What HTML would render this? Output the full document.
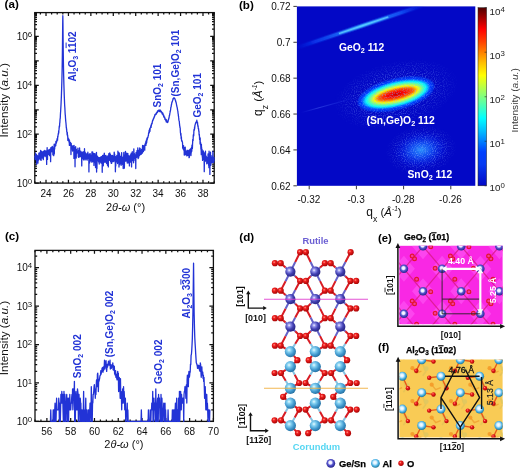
<!DOCTYPE html>
<html><head><meta charset="utf-8"><title>Figure</title>
<style>
html,body{margin:0;padding:0;background:#fff;}
body{width:520px;height:469px;overflow:hidden;}
svg{display:block;font-family:"Liberation Sans", sans-serif;filter:blur(0.35px);}
</style></head><body>
<svg width="520" height="469" viewBox="0 0 520 469">
<rect width="520" height="469" fill="#fff"/>
<rect x="34.8" y="12.6" width="179.4" height="170.5" fill="#fff" stroke="#111" stroke-width="1.3"/>
<path d="M34.8 183.1v-1.8M34.8 12.6v1.8M40.41 183.1v-1.8M40.41 12.6v1.8M46.01 183.1v-3.4M46.01 12.6v3.4M51.62 183.1v-1.8M51.62 12.6v1.8M57.22 183.1v-1.8M57.22 12.6v1.8M62.83 183.1v-1.8M62.83 12.6v1.8M68.44 183.1v-3.4M68.44 12.6v3.4M74.04 183.1v-1.8M74.04 12.6v1.8M79.65 183.1v-1.8M79.65 12.6v1.8M85.26 183.1v-1.8M85.26 12.6v1.8M90.86 183.1v-3.4M90.86 12.6v3.4M96.47 183.1v-1.8M96.47 12.6v1.8M102.07 183.1v-1.8M102.07 12.6v1.8M107.68 183.1v-1.8M107.68 12.6v1.8M113.29 183.1v-3.4M113.29 12.6v3.4M118.89 183.1v-1.8M118.89 12.6v1.8M124.5 183.1v-1.8M124.5 12.6v1.8M130.11 183.1v-1.8M130.11 12.6v1.8M135.71 183.1v-3.4M135.71 12.6v3.4M141.32 183.1v-1.8M141.32 12.6v1.8M146.92 183.1v-1.8M146.92 12.6v1.8M152.53 183.1v-1.8M152.53 12.6v1.8M158.14 183.1v-3.4M158.14 12.6v3.4M163.74 183.1v-1.8M163.74 12.6v1.8M169.35 183.1v-1.8M169.35 12.6v1.8M174.96 183.1v-1.8M174.96 12.6v1.8M180.56 183.1v-3.4M180.56 12.6v3.4M186.17 183.1v-1.8M186.17 12.6v1.8M191.77 183.1v-1.8M191.77 12.6v1.8M197.38 183.1v-1.8M197.38 12.6v1.8M202.99 183.1v-3.4M202.99 12.6v3.4M208.59 183.1v-1.8M208.59 12.6v1.8M214.2 183.1v-1.8M214.2 12.6v1.8M34.8 183.1h4M214.2 183.1h-4M34.8 175.74h2.2M214.2 175.74h-2.2M34.8 171.43h2.2M214.2 171.43h-2.2M34.8 168.38h2.2M214.2 168.38h-2.2M34.8 166.01h2.2M214.2 166.01h-2.2M34.8 164.07h2.2M214.2 164.07h-2.2M34.8 162.44h2.2M214.2 162.44h-2.2M34.8 161.02h2.2M214.2 161.02h-2.2M34.8 159.77h2.2M214.2 159.77h-2.2M34.8 158.65h4M214.2 158.65h-4M34.8 151.29h2.2M214.2 151.29h-2.2M34.8 146.98h2.2M214.2 146.98h-2.2M34.8 143.93h2.2M214.2 143.93h-2.2M34.8 141.56h2.2M214.2 141.56h-2.2M34.8 139.62h2.2M214.2 139.62h-2.2M34.8 137.99h2.2M214.2 137.99h-2.2M34.8 136.57h2.2M214.2 136.57h-2.2M34.8 135.32h2.2M214.2 135.32h-2.2M34.8 134.2h4M214.2 134.2h-4M34.8 126.84h2.2M214.2 126.84h-2.2M34.8 122.53h2.2M214.2 122.53h-2.2M34.8 119.48h2.2M214.2 119.48h-2.2M34.8 117.11h2.2M214.2 117.11h-2.2M34.8 115.17h2.2M214.2 115.17h-2.2M34.8 113.54h2.2M214.2 113.54h-2.2M34.8 112.12h2.2M214.2 112.12h-2.2M34.8 110.87h2.2M214.2 110.87h-2.2M34.8 109.75h4M214.2 109.75h-4M34.8 102.39h2.2M214.2 102.39h-2.2M34.8 98.08h2.2M214.2 98.08h-2.2M34.8 95.03h2.2M214.2 95.03h-2.2M34.8 92.66h2.2M214.2 92.66h-2.2M34.8 90.72h2.2M214.2 90.72h-2.2M34.8 89.09h2.2M214.2 89.09h-2.2M34.8 87.67h2.2M214.2 87.67h-2.2M34.8 86.42h2.2M214.2 86.42h-2.2M34.8 85.3h4M214.2 85.3h-4M34.8 77.94h2.2M214.2 77.94h-2.2M34.8 73.63h2.2M214.2 73.63h-2.2M34.8 70.58h2.2M214.2 70.58h-2.2M34.8 68.21h2.2M214.2 68.21h-2.2M34.8 66.27h2.2M214.2 66.27h-2.2M34.8 64.64h2.2M214.2 64.64h-2.2M34.8 63.22h2.2M214.2 63.22h-2.2M34.8 61.97h2.2M214.2 61.97h-2.2M34.8 60.85h4M214.2 60.85h-4M34.8 53.49h2.2M214.2 53.49h-2.2M34.8 49.18h2.2M214.2 49.18h-2.2M34.8 46.13h2.2M214.2 46.13h-2.2M34.8 43.76h2.2M214.2 43.76h-2.2M34.8 41.82h2.2M214.2 41.82h-2.2M34.8 40.19h2.2M214.2 40.19h-2.2M34.8 38.77h2.2M214.2 38.77h-2.2M34.8 37.52h2.2M214.2 37.52h-2.2M34.8 36.4h4M214.2 36.4h-4M34.8 29.04h2.2M214.2 29.04h-2.2M34.8 24.73h2.2M214.2 24.73h-2.2M34.8 21.68h2.2M214.2 21.68h-2.2M34.8 19.31h2.2M214.2 19.31h-2.2M34.8 17.37h2.2M214.2 17.37h-2.2M34.8 15.74h2.2M214.2 15.74h-2.2M34.8 14.32h2.2M214.2 14.32h-2.2M34.8 13.07h2.2M214.2 13.07h-2.2" stroke="#111" stroke-width="1.25" fill="none"/>
<path d="M34.8 156.97L34.92 156.12L35.04 157.69L35.16 159.37L35.28 158.14L35.4 159.6L35.52 156.67L35.64 153.11L35.76 158.14L35.88 158.47L36 155.39L36.12 155.73L36.24 156.39L36.36 159.21L36.48 156.71L36.6 154.7L36.72 164.31L36.84 157.8L36.96 161.71L37.08 160.01L37.2 161.49L37.31 157.08L37.43 159.86L37.55 155.65L37.67 155.93L37.79 156.83L37.91 163.1L38.03 160.17L38.15 156.37L38.27 155.9L38.39 160.29L38.51 157.43L38.63 158.74L38.75 158.25L38.87 153.22L38.99 158.18L39.11 156.08L39.23 153.6L39.35 157.48L39.47 156.19L39.59 155.57L39.71 155.66L39.83 159.03L39.95 155.55L40.07 152.14L40.19 159.76L40.31 153.39L40.43 155.3L40.55 157.26L40.67 150.3L40.79 153.51L40.91 158.59L41.03 155.23L41.15 160.26L41.27 155.84L41.39 153.54L41.51 155.44L41.63 153.51L41.75 151.48L41.87 156.89L41.99 155.88L42.11 156.25L42.23 154.7L42.34 158.02L42.46 156.42L42.58 155.39L42.7 152.57L42.82 151.9L42.94 158.11L43.06 156.72L43.18 153.04L43.3 159.64L43.42 155.74L43.54 154.77L43.66 151.33L43.78 152.71L43.9 155.2L44.02 155.25L44.14 154.9L44.26 150.46L44.38 155.24L44.5 154.88L44.62 153.21L44.74 154.32L44.86 154.45L44.98 156.64L45.1 153.89L45.22 154.88L45.34 150.92L45.46 152.11L45.58 153.69L45.7 151.96L45.82 154.33L45.94 150.94L46.06 153.41L46.18 151.94L46.3 156.34L46.42 152.39L46.54 157.14L46.66 164.45L46.78 153.74L46.9 155.07L47.02 152.5L47.14 147.58L47.26 154.69L47.37 154.13L47.49 159.39L47.61 151.41L47.73 152.88L47.85 152.87L47.97 150.72L48.09 151.07L48.21 154.53L48.33 152.28L48.45 151.95L48.57 154.32L48.69 151.29L48.81 153.71L48.93 149.55L49.05 151.2L49.17 151.35L49.29 152.77L49.41 151.64L49.53 155.66L49.65 153.67L49.77 150.33L49.89 155.63L50.01 149.11L50.13 154.59L50.25 149.13L50.37 152.46L50.49 148.91L50.61 161.69L50.73 153.59L50.85 147.65L50.97 148.76L51.09 150.19L51.21 150.52L51.33 150.17L51.45 151.73L51.57 147.39L51.69 150.61L51.81 149.5L51.93 150.88L52.05 150.42L52.17 151.58L52.28 146.44L52.4 149.1L52.52 146.78L52.64 148.52L52.76 149.75L52.88 154.73L53 149.21L53.12 147.98L53.24 148.56L53.36 148.27L53.48 150.13L53.6 148.9L53.72 155.65L53.84 148.32L53.96 148.84L54.08 146.15L54.2 144.06L54.32 153.95L54.44 146.59L54.56 147.14L54.68 148.9L54.8 144.38L54.92 145.48L55.04 145.11L55.16 146.27L55.28 144.03L55.4 145.44L55.52 144.55L55.64 145.85L55.76 145.75L55.88 141.44L56 144.06L56.12 142.53L56.24 142.73L56.36 143.03L56.48 142.79L56.6 140.78L56.72 141.78L56.84 141.19L56.96 140.56L57.08 138.58L57.2 138.85L57.31 138.81L57.43 139.58L57.55 140.11L57.67 136.67L57.79 136.14L57.91 136.91L58.03 135.52L58.15 134.64L58.27 133.95L58.39 133.18L58.51 133.89L58.63 131.15L58.75 133.03L58.87 130.18L58.99 129.63L59.11 128.37L59.23 126.58L59.35 125.89L59.47 126.79L59.59 125.95L59.71 122.96L59.83 122.84L59.95 120.81L60.07 118.86L60.19 118.66L60.31 117.19L60.43 114.29L60.55 112.55L60.67 110.7L60.79 108.51L60.91 106.58L61.03 104.37L61.15 101.42L61.27 98.86L61.39 96L61.51 92.35L61.63 88.92L61.75 84.97L61.87 80.81L61.99 75.9L62.11 70.37L62.22 63.93L62.34 56.3L62.46 47.19L62.58 36.05L62.7 23.52L62.82 15.76L62.83 15.75L62.94 22.05L63.06 34.53L63.18 45.9L63.3 55.32L63.42 63.03L63.54 69.5L63.66 75.19L63.78 80.11L63.9 84.54L64.02 88.27L64.14 92.02L64.26 95.72L64.38 98.43L64.5 101.55L64.62 104.56L64.74 106.18L64.86 107.78L64.98 110.33L65.1 112.82L65.22 114.61L65.34 115.38L65.46 117.51L65.58 119.12L65.7 120.66L65.82 122L65.94 122.81L66.06 124.21L66.18 125.63L66.3 127.73L66.42 127.57L66.54 129.58L66.66 128.99L66.78 132.04L66.9 131.86L67.02 132.56L67.14 134.68L67.25 132.25L67.37 133.18L67.49 135.95L67.61 135.18L67.73 136.22L67.85 140.39L67.97 137.47L68.09 138.37L68.21 138.68L68.33 140.67L68.45 140.07L68.57 140.37L68.69 138.89L68.81 140.46L68.93 141.31L69.05 139.43L69.17 142.82L69.29 142.91L69.41 145.39L69.53 140.53L69.65 141.73L69.77 142.07L69.89 142.71L70.01 143.86L70.13 143.93L70.25 144.94L70.37 145.09L70.49 144.89L70.61 142.65L70.73 144.46L70.85 145.72L70.97 154.54L71.09 147.12L71.21 143.37L71.33 145.48L71.45 146.43L71.57 147.35L71.69 148.91L71.81 147.18L71.93 145.61L72.05 148.11L72.17 147.96L72.28 148.1L72.4 147.62L72.52 151L72.64 148.56L72.76 149.89L72.88 146.67L73 150.01L73.12 147.52L73.24 145.78L73.36 149.52L73.48 150.22L73.6 148.76L73.72 149.26L73.84 151.38L73.96 158.43L74.08 145.5L74.2 150.24L74.32 150.24L74.44 152.08L74.56 149.37L74.68 152.73L74.8 152.55L74.92 147.65L75.04 166.87L75.16 148.25L75.28 147.39L75.4 150.17L75.52 149.63L75.64 146.71L75.76 151.43L75.88 152.38L76 154.13L76.12 151.18L76.24 158.02L76.36 149.33L76.48 153.6L76.6 153.5L76.72 152.81L76.84 151.12L76.96 152.31L77.08 151.44L77.19 151.33L77.31 152.75L77.43 152.25L77.55 151.76L77.67 152.49L77.79 151.22L77.91 148.15L78.03 151.15L78.15 152.46L78.27 156.56L78.39 151.82L78.51 157.33L78.63 156.15L78.75 150.92L78.87 151.33L78.99 153.41L79.11 157.16L79.23 154.06L79.35 154.86L79.47 151.79L79.59 147.98L79.71 152.91L79.83 155.35L79.95 156.36L80.07 153.74L80.19 154.09L80.31 156.51L80.43 153.49L80.55 156.63L80.67 151.17L80.79 151.34L80.91 151.33L81.03 155.21L81.15 152.83L81.27 154.47L81.39 155.16L81.51 155.09L81.63 157.53L81.75 165.95L81.87 152.41L81.99 154.92L82.11 153.95L82.22 152.03L82.34 158.94L82.46 156.61L82.58 154.24L82.7 153.73L82.82 155.72L82.94 152.2L83.06 154.32L83.18 157.99L83.3 157.32L83.42 152.92L83.54 153.84L83.66 159.94L83.78 151.64L83.9 153.61L84.02 151.72L84.14 156.22L84.26 156.03L84.38 158.23L84.5 148.76L84.62 155.84L84.74 151.29L84.86 157.15L84.98 155.07L85.1 159.91L85.22 156.57L85.34 153.02L85.46 158.93L85.58 152.85L85.7 154.82L85.82 158.5L85.94 157.1L86.06 157.03L86.18 155.97L86.3 157.3L86.42 158.11L86.54 156.75L86.66 158.71L86.78 159.45L86.9 156.16L87.02 153.7L87.13 160.2L87.25 156.12L87.37 157.9L87.49 158.82L87.61 153.92L87.73 157.64L87.85 152.23L87.97 158.41L88.09 155.28L88.21 156.97L88.33 158.43L88.45 154.82L88.57 156.86L88.69 154.82L88.81 156.62L88.93 171.89L89.05 156.82L89.17 156.43L89.29 153.97L89.41 159.11L89.53 163.07L89.65 161.4L89.77 154.9L89.89 159.7L90.01 161.72L90.13 156.93L90.25 153.74L90.37 161.03L90.49 159.85L90.61 158.92L90.73 160.01L90.85 155.85L90.97 159.17L91.09 158.95L91.21 155.35L91.33 159.1L91.45 155.81L91.57 159.74L91.69 160.44L91.81 162.21L91.93 151.89L92.05 158.01L92.16 156.45L92.28 157.25L92.4 156.88L92.52 157.06L92.64 151.85L92.76 160.16L92.88 161.64L93 160.12L93.12 161.06L93.24 155.2L93.36 155.01L93.48 160.06L93.6 161.3L93.72 158.39L93.84 153.46L93.96 165.41L94.08 155.94L94.2 160.51L94.32 154.51L94.44 160.55L94.56 162.31L94.68 161.81L94.8 160.32L94.92 153.6L95.04 155.23L95.16 158.73L95.28 160.09L95.4 163.03L95.52 167.48L95.64 157.73L95.76 157.9L95.88 157.94L96 160.91L96.12 157.9L96.24 157.83L96.36 154.03L96.48 152.38L96.6 172.07L96.72 159.98L96.84 157.98L96.96 168.46L97.08 159.96L97.19 158L97.31 160.86L97.43 156.11L97.55 158.17L97.67 157.16L97.79 158.43L97.91 160.02L98.03 160.67L98.15 158.62L98.27 159.54L98.39 157.28L98.51 157.99L98.63 161.94L98.75 157.8L98.87 161.91L98.99 159.81L99.11 158.89L99.23 164.08L99.35 157.79L99.47 157.63L99.59 158.54L99.71 159.33L99.83 159.19L99.95 160.96L100.07 158.91L100.19 159.75L100.31 157.87L100.43 161.67L100.55 157.47L100.67 157.75L100.79 162.76L100.91 159.48L101.03 156.59L101.15 163.09L101.27 156.87L101.39 157.52L101.51 157.41L101.63 157.13L101.75 160.18L101.87 159.03L101.99 156.41L102.1 157.02L102.22 172.26L102.34 162.76L102.46 156.73L102.58 160.75L102.7 155.36L102.82 157.65L102.94 162.94L103.06 155.58L103.18 158.8L103.3 165.85L103.42 157.27L103.54 162.8L103.66 162.23L103.78 160.29L103.9 154.65L104.02 159.52L104.14 157.63L104.26 153.27L104.38 153.73L104.5 158.76L104.62 159.18L104.74 162.2L104.86 160.53L104.98 157.22L105.1 157.32L105.22 158.17L105.34 155.55L105.46 160.8L105.58 162.02L105.7 156.35L105.82 156.79L105.94 155.35L106.06 157.36L106.18 159.47L106.3 157.48L106.42 161.54L106.54 163.45L106.66 156.84L106.78 158.74L106.9 157.67L107.02 163.65L107.13 159.68L107.25 160.39L107.37 161.18L107.49 165.34L107.61 159.62L107.73 155.95L107.85 157.49L107.97 160.43L108.09 158.68L108.21 156.38L108.33 166.89L108.45 159.02L108.57 157.03L108.69 156.62L108.81 153.58L108.93 155.28L109.05 157.74L109.17 157.78L109.29 156.33L109.41 160.3L109.53 158.81L109.65 155.98L109.77 152.84L109.89 159.18L110.01 158.85L110.13 158.11L110.25 154.69L110.37 158.81L110.49 154.32L110.61 161.62L110.73 159.28L110.85 159.32L110.97 156.37L111.09 155.6L111.21 163.26L111.33 161.48L111.45 157.73L111.57 160.72L111.69 163.31L111.81 155.63L111.93 157.27L112.04 157.27L112.16 160.18L112.28 155.67L112.4 159.48L112.52 155.47L112.64 161.5L112.76 161.32L112.88 158.15L113 160.87L113.12 156.74L113.24 157.98L113.36 161.54L113.48 158.55L113.6 159.82L113.72 156.02L113.84 160.67L113.96 160.09L114.08 155.13L114.2 152.05L114.32 152.77L114.44 158.58L114.56 158.11L114.68 154.16L114.8 159.14L114.92 161.69L115.04 158.41L115.16 157.41L115.28 161.25L115.4 171.81L115.52 163.07L115.64 156.76L115.76 166.08L115.88 159.18L116 158.11L116.12 156.89L116.24 159.75L116.36 157.25L116.48 161.41L116.6 159.82L116.72 161.8L116.84 155.34L116.96 158.81L117.07 160.94L117.19 159.77L117.31 159.38L117.43 156.61L117.55 163.48L117.67 161.81L117.79 159.83L117.91 151.12L118.03 155.83L118.15 159.01L118.27 156.55L118.39 152.52L118.51 159.36L118.63 161.39L118.75 155.03L118.87 157.17L118.99 167.09L119.11 160.15L119.23 152.88L119.35 153.52L119.47 156.92L119.59 156.56L119.71 164.63L119.83 156.69L119.95 159.15L120.07 157.28L120.19 156.53L120.31 159.56L120.43 163.57L120.55 157.44L120.67 160.72L120.79 159.49L120.91 160.29L121.03 159.5L121.15 165.33L121.27 154.86L121.39 157.71L121.51 155.15L121.63 152.57L121.75 158.35L121.87 163.74L121.99 161.04L122.1 161.95L122.22 159.85L122.34 158.12L122.46 164.24L122.58 157.32L122.7 162.76L122.82 157.42L122.94 158.6L123.06 159.19L123.18 168.61L123.3 159.82L123.42 160.02L123.54 163.13L123.66 158.27L123.78 152.77L123.9 152.36L124.02 154.27L124.14 156.06L124.26 160.07L124.38 168.14L124.5 158.22L124.62 158.24L124.74 158.87L124.86 157.73L124.98 159.24L125.1 158.2L125.22 161.08L125.34 159L125.46 151.3L125.58 158.08L125.7 158.54L125.82 156.29L125.94 155.77L126.06 160.99L126.18 158.36L126.3 155.1L126.42 156.94L126.54 157.34L126.66 153.21L126.78 159.58L126.9 157.38L127.01 159.07L127.13 153.31L127.25 163.1L127.37 161.42L127.49 158.99L127.61 155.57L127.73 155.71L127.85 153.45L127.97 161.82L128.09 155.22L128.21 158.14L128.33 159.16L128.45 155.73L128.57 159.81L128.69 163.02L128.81 158.2L128.93 161.32L129.05 158.91L129.17 156.03L129.29 156.17L129.41 165.94L129.53 157.53L129.65 161.2L129.77 159L129.89 159.42L130.01 160.2L130.13 155.6L130.25 158.55L130.37 162.18L130.49 154.78L130.61 156.97L130.73 155.65L130.85 156.3L130.97 154.83L131.09 156.41L131.21 153.11L131.33 155.29L131.45 155.34L131.57 166.95L131.69 160.27L131.81 156.73L131.93 156.95L132.04 155.65L132.16 159.82L132.28 151.75L132.4 155.81L132.52 159.29L132.64 160.57L132.76 156.72L132.88 159.88L133 157.8L133.12 155.6L133.24 157.5L133.36 154.3L133.48 157.63L133.6 162.81L133.72 153.06L133.84 148.84L133.96 158.18L134.08 156.71L134.2 157.65L134.32 153.37L134.44 158.35L134.56 156.58L134.68 155.35L134.8 157.76L134.92 157.65L135.04 156.36L135.16 160.48L135.28 158.75L135.4 156.05L135.52 154.57L135.64 155.37L135.76 168.6L135.88 155.98L136 152.73L136.12 153.3L136.24 154.85L136.36 156.84L136.48 152.97L136.6 155.95L136.72 157.37L136.84 156.4L136.96 150.74L137.07 153.74L137.19 151.37L137.31 155.37L137.43 151.82L137.55 155.55L137.67 154.4L137.79 147.87L137.91 152.03L138.03 155.07L138.15 158.61L138.27 152.94L138.39 150.74L138.51 154.79L138.63 157.73L138.75 154.15L138.87 153.38L138.99 153.09L139.11 150.15L139.23 152.47L139.35 151.23L139.47 155.68L139.59 150.97L139.71 148.02L139.83 151.05L139.95 152.19L140.07 152.34L140.19 148.49L140.31 154.67L140.43 152.71L140.55 151.31L140.67 150.58L140.79 153.17L140.91 151.39L141.03 152.61L141.15 151.61L141.27 152.07L141.39 154.2L141.51 151.6L141.63 149.51L141.75 153.43L141.87 151.72L141.98 149.62L142.1 153.23L142.22 150.4L142.34 152.9L142.46 148.1L142.58 145.49L142.7 145.96L142.82 150.47L142.94 148.32L143.06 149.42L143.18 149.27L143.3 146.18L143.42 151.72L143.54 146.8L143.66 148.77L143.78 145.72L143.9 147.87L144.02 149.27L144.14 147.23L144.26 146.13L144.38 147.18L144.5 146.09L144.62 147.65L144.74 150.22L144.86 144.56L144.98 144.63L145.1 145.29L145.22 145.12L145.34 143.18L145.46 145.34L145.58 145.4L145.7 144.22L145.82 141.7L145.94 145.38L146.06 141.04L146.18 143.46L146.3 143.76L146.42 139.91L146.54 141.51L146.66 142.82L146.78 141.1L146.9 138.93L147.01 138.2L147.13 139.96L147.25 138.47L147.37 137.67L147.49 138.98L147.61 137.32L147.73 137.38L147.85 137.56L147.97 137.07L148.09 136L148.21 135.62L148.33 135.85L148.45 135.27L148.57 133.19L148.69 133.73L148.81 132.62L148.93 131.89L149.05 132.09L149.17 130.04L149.29 132.62L149.41 130.65L149.53 131.28L149.65 128.88L149.77 128.64L149.89 131.45L150.01 130.16L150.13 128.36L150.25 127.85L150.37 127.5L150.49 127.76L150.61 126.94L150.73 126.4L150.85 126.57L150.97 125.35L151.09 127.41L151.21 124.89L151.33 125.72L151.45 123.92L151.57 124.39L151.69 124.47L151.81 123.24L151.92 123.74L152.04 123.38L152.16 123.44L152.28 122.1L152.4 121.43L152.52 120.77L152.64 121.15L152.76 120.1L152.88 120.39L153 120.14L153.12 119.43L153.24 118.85L153.36 119.33L153.48 118.97L153.6 118.63L153.72 118.2L153.84 118.43L153.96 117.13L154.08 117.59L154.2 116.87L154.32 117.26L154.44 116.39L154.56 116.12L154.68 116.26L154.8 114.82L154.92 115.38L155.04 114.47L155.16 114.63L155.28 115.16L155.4 114.8L155.52 114.2L155.64 114.16L155.76 113.95L155.88 113.9L156 114.37L156.12 113.48L156.24 114.15L156.36 112.85L156.48 113.14L156.6 112.97L156.72 112.59L156.84 112.23L156.95 112.79L157.07 112.77L157.19 112.34L157.31 112.61L157.43 112.04L157.55 110.89L157.67 111.85L157.79 111.06L157.91 111.77L158.03 111.02L158.15 111.18L158.27 111.01L158.39 110.69L158.51 110.17L158.63 110.74L158.75 110.72L158.87 111.12L158.99 110.49L159.11 110.8L159.23 110.37L159.35 110.71L159.47 110.02L159.59 111.5L159.71 110.87L159.83 110.44L159.95 110.97L160.07 111.19L160.19 111.04L160.31 111.55L160.43 111.03L160.55 110.19L160.67 110.8L160.79 111.8L160.91 111.81L161.03 111.73L161.15 111.28L161.27 112.15L161.39 112.23L161.51 111.72L161.63 111.87L161.75 112.54L161.87 113.02L161.98 113.37L162.1 113.18L162.22 114.02L162.34 112.91L162.46 113.7L162.58 113.4L162.7 112.97L162.82 113.48L162.94 114.74L163.06 114.03L163.18 114.11L163.3 115.21L163.42 115.54L163.54 115.37L163.66 116.33L163.78 115.08L163.9 117.22L164.02 116.83L164.14 116.67L164.26 116.9L164.38 116.95L164.5 117.16L164.62 117.67L164.74 117.22L164.86 119.23L164.98 118.35L165.1 119L165.22 118.8L165.34 119.02L165.46 119.92L165.58 120.03L165.7 119.46L165.82 119.96L165.94 120.81L166.06 119.43L166.18 119.48L166.3 121.97L166.42 121.09L166.54 119.91L166.66 121.13L166.78 121.62L166.89 122.01L167.01 122.31L167.13 122.16L167.25 122.4L167.37 121.57L167.49 122.24L167.61 122.18L167.73 122.52L167.85 121.62L167.97 121.92L168.09 121.21L168.21 120.16L168.33 120.21L168.45 119.74L168.57 119.39L168.69 119.09L168.81 118.68L168.93 118.23L169.05 117.1L169.17 117.46L169.29 115.63L169.41 115.65L169.53 115.37L169.65 114.59L169.77 114.01L169.89 112.97L170.01 112.67L170.13 111.24L170.25 111.35L170.37 111.25L170.49 110L170.61 109.81L170.73 108.45L170.85 107.44L170.97 106.98L171.09 107.03L171.21 106.25L171.33 104.87L171.45 104.77L171.57 104.33L171.69 103.49L171.81 102.59L171.92 102.43L172.04 102.28L172.16 101.77L172.28 101.27L172.4 101.18L172.52 100.89L172.64 100.24L172.76 100.14L172.88 99.6L173 99.26L173.12 98.46L173.24 98.98L173.36 98.6L173.48 98.43L173.6 98.14L173.72 97.89L173.84 98.16L173.96 98.19L174.08 98.37L174.2 98.24L174.32 97.96L174.44 98.17L174.56 98.55L174.68 98.56L174.8 98.67L174.92 98.78L175.04 99.3L175.16 99.51L175.28 100.21L175.4 100.39L175.52 100.06L175.64 101.42L175.76 101.36L175.88 101.65L176 102.27L176.12 102.87L176.24 103.16L176.36 103.67L176.48 104.23L176.6 105.34L176.72 105.39L176.83 106.22L176.95 106.75L177.07 107.13L177.19 107.64L177.31 108.22L177.43 109.41L177.55 109.59L177.67 110.21L177.79 110.96L177.91 111.61L178.03 113.03L178.15 113.85L178.27 114.21L178.39 116.07L178.51 116.16L178.63 117.4L178.75 118.21L178.87 119.87L178.99 120.32L179.11 120.73L179.23 121.09L179.35 121.94L179.47 123.58L179.59 124.61L179.71 126.05L179.83 126.09L179.95 127.56L180.07 127.83L180.19 127.78L180.31 130.28L180.43 132.6L180.55 132.99L180.67 134.56L180.79 135.27L180.91 133.49L181.03 135.55L181.15 138.47L181.27 136.73L181.39 136.76L181.51 139.63L181.63 140.84L181.75 141.14L181.86 140.98L181.98 141.13L182.1 140.93L182.22 141.46L182.34 142.05L182.46 142.27L182.58 143.93L182.7 148.17L182.82 146.25L182.94 145.91L183.06 147.58L183.18 145.61L183.3 148.34L183.42 149.78L183.54 145.57L183.66 147.37L183.78 148.54L183.9 147.4L184.02 147.37L184.14 149.08L184.26 155.11L184.38 151.66L184.5 151.44L184.62 152.78L184.74 150.46L184.86 148.49L184.98 152.32L185.1 153.93L185.22 147.11L185.34 152.77L185.46 154.69L185.58 151.53L185.7 151.25L185.82 153.96L185.94 153.92L186.06 153.74L186.18 154.88L186.3 152.43L186.42 151.15L186.54 154.56L186.66 152.38L186.78 153.48L186.89 155.88L187.01 155.13L187.13 150.19L187.25 153.71L187.37 153.96L187.49 151.97L187.61 151.61L187.73 150.75L187.85 153.08L187.97 155.4L188.09 155.28L188.21 152.75L188.33 152.6L188.45 150.61L188.57 153.03L188.69 151.46L188.81 150.34L188.93 153.65L189.05 157.69L189.17 156.91L189.29 157.5L189.41 150.04L189.53 155.95L189.65 150.81L189.77 152.31L189.89 149.49L190.01 151.11L190.13 153.63L190.25 153.7L190.37 152.85L190.49 152.43L190.61 153.84L190.73 152.42L190.85 148.41L190.97 155.5L191.09 150.77L191.21 152.87L191.33 150.06L191.45 148.21L191.57 149.51L191.69 147.27L191.8 151.19L191.92 145.4L192.04 147.8L192.16 144.86L192.28 144.82L192.4 148.48L192.52 144.59L192.64 142.18L192.76 139.34L192.88 140.26L193 139.37L193.12 140.58L193.24 136.05L193.36 134.72L193.48 135.89L193.6 135.23L193.72 135.78L193.84 132.27L193.96 129.64L194.08 130.74L194.2 129.42L194.32 129.27L194.44 129.78L194.56 127.08L194.68 128.42L194.8 126.89L194.92 125.84L195.04 124.75L195.16 124.49L195.28 123.95L195.4 124.2L195.52 124.05L195.64 122.71L195.76 122.81L195.88 122.85L196 122.52L196.12 121.81L196.24 122.48L196.36 122.07L196.48 122.2L196.6 121.12L196.72 121.08L196.83 120.24L196.95 122.64L197.07 122.41L197.19 121.73L197.31 122.84L197.43 123.36L197.55 122.47L197.67 124.39L197.79 125.54L197.91 126.29L198.03 125.72L198.15 126.42L198.27 128.45L198.39 128.91L198.51 128.43L198.63 129.17L198.75 131.09L198.87 130.77L198.99 131.67L199.11 134.93L199.23 134.37L199.35 134.52L199.47 136.58L199.59 139.42L199.71 138.2L199.83 137.86L199.95 137.68L200.07 143.85L200.19 137.94L200.31 144.42L200.43 142.14L200.55 142.55L200.67 143.81L200.79 146.1L200.91 149.35L201.03 146.83L201.15 150.2L201.27 154.64L201.39 144.3L201.51 149.34L201.63 147.45L201.74 154.07L201.86 149.15L201.98 149.26L202.1 149.71L202.22 153.88L202.34 157.17L202.46 154.97L202.58 160.42L202.7 159.48L202.82 159.66L202.94 158.19L203.06 156.24L203.18 156.29L203.3 150.99L203.42 152.83L203.54 156.92L203.66 156.04L203.78 158.93L203.9 157.84L204.02 154.49L204.14 160.61L204.26 171.71L204.38 161.07L204.5 157.1L204.62 152.88L204.74 159.76L204.86 157.05L204.98 160.35L205.1 161.16L205.22 161.49L205.34 153.76L205.46 151.17L205.58 156.7L205.7 160.27L205.82 156.16L205.94 159.26L206.06 155.97L206.18 157.52L206.3 157.6L206.42 156.68L206.54 160.24L206.66 159.77L206.77 163.83L206.89 159.97L207.01 162.94L207.13 159.95L207.25 161.63L207.37 158.49L207.49 157.46L207.61 163.13L207.73 161.34L207.85 161.77L207.97 156.69L208.09 153.81L208.21 156.42L208.33 160.09L208.45 154.6L208.57 165.12L208.69 154.54L208.81 161.12L208.93 167.62L209.05 151.07L209.17 154.36L209.29 162.36L209.41 158.71L209.53 159.9L209.65 158.95L209.77 163.81L209.89 174.46L210.01 157.88L210.13 158.65L210.25 155.68L210.37 159.12L210.49 152.2L210.61 161.58L210.73 158.61L210.85 165.28L210.97 163.26L211.09 155.39L211.21 162.34L211.33 157.85L211.45 159.67L211.57 162.69L211.69 160.57L211.8 161.09L211.92 161.02L212.04 157.24L212.16 157.56L212.28 161.33L212.4 162.34L212.52 158.72L212.64 159.9L212.76 156.46L212.88 151.49L213 157.04L213.12 159.73L213.24 160.16L213.36 162.26L213.48 162.42L213.6 162.73L213.72 160.88L213.84 160.98L213.96 157.41L214.08 160.91L214.2 160.3" fill="none" stroke="#2233d6" stroke-width="1.3" stroke-linejoin="round"/>
<text x="46.01" y="196.6" font-size="10" text-anchor="middle" font-weight="normal" font-style="normal" fill="#111">24</text>
<text x="68.44" y="196.6" font-size="10" text-anchor="middle" font-weight="normal" font-style="normal" fill="#111">26</text>
<text x="90.86" y="196.6" font-size="10" text-anchor="middle" font-weight="normal" font-style="normal" fill="#111">28</text>
<text x="113.29" y="196.6" font-size="10" text-anchor="middle" font-weight="normal" font-style="normal" fill="#111">30</text>
<text x="135.71" y="196.6" font-size="10" text-anchor="middle" font-weight="normal" font-style="normal" fill="#111">32</text>
<text x="158.14" y="196.6" font-size="10" text-anchor="middle" font-weight="normal" font-style="normal" fill="#111">34</text>
<text x="180.56" y="196.6" font-size="10" text-anchor="middle" font-weight="normal" font-style="normal" fill="#111">36</text>
<text x="202.99" y="196.6" font-size="10" text-anchor="middle" font-weight="normal" font-style="normal" fill="#111">38</text>
<text x="32.1" y="186.9" font-size="10" text-anchor="end" font-weight="normal" font-style="normal" fill="#111">10<tspan baseline-shift="3.2" font-size="78%">0</tspan></text>
<text x="32.1" y="138" font-size="10" text-anchor="end" font-weight="normal" font-style="normal" fill="#111">10<tspan baseline-shift="3.2" font-size="78%">2</tspan></text>
<text x="32.1" y="89.1" font-size="10" text-anchor="end" font-weight="normal" font-style="normal" fill="#111">10<tspan baseline-shift="3.2" font-size="78%">4</tspan></text>
<text x="32.1" y="40.2" font-size="10" text-anchor="end" font-weight="normal" font-style="normal" fill="#111">10<tspan baseline-shift="3.2" font-size="78%">6</tspan></text>
<text x="125.5" y="211.3" font-size="11" text-anchor="middle" font-weight="normal" font-style="normal" fill="#111">2<tspan font-style="italic">θ-ω</tspan> (°)</text>
<text x="8.4" y="100.3" font-size="11" text-anchor="middle" font-weight="normal" font-style="normal" fill="#111" transform="rotate(-90 8.4 100.3)" textLength="74.5" lengthAdjust="spacingAndGlyphs">Intensity (<tspan font-style="italic">a.u.</tspan>)</text>
<text x="4.6" y="8.2" font-size="11.6" text-anchor="start" font-weight="bold" font-style="normal" fill="#000">(a)</text>
<text x="75.6" y="81.5" font-size="10" text-anchor="start" font-weight="bold" font-style="normal" fill="#2233d6" transform="rotate(-90 75.6 81.5)">Al<tspan baseline-shift="-2" font-size="70%">2</tspan>O<tspan baseline-shift="-2" font-size="70%">3</tspan> 1<tspan text-decoration="overline">1</tspan>02</text>
<text x="161" y="107.5" font-size="10" text-anchor="start" font-weight="bold" font-style="normal" fill="#2233d6" transform="rotate(-90 161 107.5)">SnO<tspan baseline-shift="-2" font-size="70%">2</tspan> 101</text>
<text x="178.6" y="96.5" font-size="10" text-anchor="start" font-weight="bold" font-style="normal" fill="#2233d6" transform="rotate(-90 178.6 96.5)">(Sn,Ge)O<tspan baseline-shift="-2" font-size="70%">2</tspan> 101</text>
<text x="201" y="117.5" font-size="10" text-anchor="start" font-weight="bold" font-style="normal" fill="#2233d6" transform="rotate(-90 201 117.5)">GeO<tspan baseline-shift="-2" font-size="70%">2</tspan> 101</text>
<rect x="35" y="250.4" width="178.4" height="171" fill="#fff" stroke="#111" stroke-width="1.3"/>
<path d="M35 421.4v-1.8M35 250.4v1.8M40.95 421.4v-1.8M40.95 250.4v1.8M46.89 421.4v-3.4M46.89 250.4v3.4M52.84 421.4v-1.8M52.84 250.4v1.8M58.79 421.4v-1.8M58.79 250.4v1.8M64.73 421.4v-1.8M64.73 250.4v1.8M70.68 421.4v-3.4M70.68 250.4v3.4M76.63 421.4v-1.8M76.63 250.4v1.8M82.57 421.4v-1.8M82.57 250.4v1.8M88.52 421.4v-1.8M88.52 250.4v1.8M94.47 421.4v-3.4M94.47 250.4v3.4M100.41 421.4v-1.8M100.41 250.4v1.8M106.36 421.4v-1.8M106.36 250.4v1.8M112.31 421.4v-1.8M112.31 250.4v1.8M118.25 421.4v-3.4M118.25 250.4v3.4M124.2 421.4v-1.8M124.2 250.4v1.8M130.15 421.4v-1.8M130.15 250.4v1.8M136.09 421.4v-1.8M136.09 250.4v1.8M142.04 421.4v-3.4M142.04 250.4v3.4M147.99 421.4v-1.8M147.99 250.4v1.8M153.93 421.4v-1.8M153.93 250.4v1.8M159.88 421.4v-1.8M159.88 250.4v1.8M165.83 421.4v-3.4M165.83 250.4v3.4M171.77 421.4v-1.8M171.77 250.4v1.8M177.72 421.4v-1.8M177.72 250.4v1.8M183.67 421.4v-1.8M183.67 250.4v1.8M189.61 421.4v-3.4M189.61 250.4v3.4M195.56 421.4v-1.8M195.56 250.4v1.8M201.51 421.4v-1.8M201.51 250.4v1.8M207.45 421.4v-1.8M207.45 250.4v1.8M213.4 421.4v-3.4M213.4 250.4v3.4M35 421.4h4M213.4 421.4h-4M35 409.83h2.2M213.4 409.83h-2.2M35 403.05h2.2M213.4 403.05h-2.2M35 398.25h2.2M213.4 398.25h-2.2M35 394.52h2.2M213.4 394.52h-2.2M35 391.48h2.2M213.4 391.48h-2.2M35 388.91h2.2M213.4 388.91h-2.2M35 386.68h2.2M213.4 386.68h-2.2M35 384.71h2.2M213.4 384.71h-2.2M35 382.95h4M213.4 382.95h-4M35 371.38h2.2M213.4 371.38h-2.2M35 364.6h2.2M213.4 364.6h-2.2M35 359.8h2.2M213.4 359.8h-2.2M35 356.07h2.2M213.4 356.07h-2.2M35 353.03h2.2M213.4 353.03h-2.2M35 350.46h2.2M213.4 350.46h-2.2M35 348.23h2.2M213.4 348.23h-2.2M35 346.26h2.2M213.4 346.26h-2.2M35 344.5h4M213.4 344.5h-4M35 332.93h2.2M213.4 332.93h-2.2M35 326.15h2.2M213.4 326.15h-2.2M35 321.35h2.2M213.4 321.35h-2.2M35 317.62h2.2M213.4 317.62h-2.2M35 314.58h2.2M213.4 314.58h-2.2M35 312.01h2.2M213.4 312.01h-2.2M35 309.78h2.2M213.4 309.78h-2.2M35 307.81h2.2M213.4 307.81h-2.2M35 306.05h4M213.4 306.05h-4M35 294.48h2.2M213.4 294.48h-2.2M35 287.7h2.2M213.4 287.7h-2.2M35 282.9h2.2M213.4 282.9h-2.2M35 279.17h2.2M213.4 279.17h-2.2M35 276.13h2.2M213.4 276.13h-2.2M35 273.56h2.2M213.4 273.56h-2.2M35 271.33h2.2M213.4 271.33h-2.2M35 269.36h2.2M213.4 269.36h-2.2M35 267.6h4M213.4 267.6h-4M35 256.03h2.2M213.4 256.03h-2.2" stroke="#111" stroke-width="1.25" fill="none"/>
<path d="M50.46 421.4L50.77 409.83L51.08 421.4L51.38 421.4L51.69 421.4L52 421.4L52.3 421.4L52.61 421.4L52.92 421.4L53.22 409.83L53.53 421.4L53.84 409.83L54.15 409.83L54.45 421.4L54.76 409.83L55.07 403.05L55.37 421.4L55.68 421.4L55.99 421.4L56.3 409.83L56.6 398.25L56.91 409.83L57.22 409.83L57.52 409.83L57.83 409.83L58.14 409.83L58.45 409.83L58.75 398.25L59.06 403.05L59.37 421.4L59.67 403.05L59.98 421.4L60.29 421.4L60.59 409.83L60.9 394.52L61.21 398.25L61.52 403.05L61.82 391.48L62.13 403.05L62.44 394.52L62.74 394.52L63.05 409.83L63.36 421.4L63.67 421.4L63.97 391.48L64.28 421.4L64.59 409.83L64.89 394.52L65.2 409.83L65.51 421.4L65.81 403.05L66.12 409.83L66.43 398.25L66.74 394.52L67.04 421.4L67.35 421.4L67.66 403.05L67.96 398.25L68.27 403.05L68.58 421.4L68.89 398.25L69.19 398.25L69.5 409.83L69.81 394.52L70.11 409.83L70.42 403.05L70.73 409.83L71.04 403.05L71.34 403.05L71.65 398.25L71.96 394.52L72.26 403.05L72.57 388.91L72.88 409.83L73.18 403.05L73.49 388.91L73.8 398.25L74.11 394.52L74.41 381.36L74.72 421.4L75.03 394.52L75.33 421.4L75.64 394.52L75.95 391.48L76.26 398.25L76.56 409.83L76.87 409.83L77.18 409.83L77.48 388.91L77.79 391.48L78.1 394.52L78.4 421.4L78.71 403.05L79.02 394.52L79.33 409.83L79.63 398.25L79.94 421.4L80.25 398.25L80.55 403.05L80.86 403.05L81.17 421.4L81.48 409.83L81.78 409.83L82.09 409.83L82.4 421.4L82.7 409.83L83.01 421.4L83.32 409.83L83.63 391.48L83.93 421.4L84.24 409.83L84.55 421.4L84.85 421.4L85.16 409.83L85.47 409.83L85.77 398.25L86.08 421.4L86.39 421.4L86.7 409.83L87 421.4L87.31 421.4L87.62 421.4L87.92 421.4L88.23 409.83L88.54 409.83L88.85 421.4L89.15 421.4L89.46 421.4L89.77 409.83L90.07 403.05L90.38 403.05L90.69 409.83L90.99 421.4L91.3 386.68L91.61 403.05L91.92 403.05L92.22 421.4L92.53 403.05L92.84 403.05L93.14 394.52L93.45 394.52L93.76 391.48L94.07 386.68L94.37 384.71L94.68 388.91L94.99 391.48L95.29 398.25L95.6 388.91L95.91 394.52L96.22 386.68L96.52 379.91L96.83 384.71L97.14 386.68L97.44 374.09L97.75 373.13L98.06 378.57L98.36 391.48L98.67 379.91L98.98 381.36L99.29 379.91L99.59 378.57L99.9 376.18L100.21 375.1L100.51 375.1L100.82 370.56L101.13 374.09L101.44 372.23L101.74 371.38L102.05 368.33L102.36 367.65L102.66 369.04L102.97 372.23L103.28 366.99L103.58 370.56L103.89 366.99L104.2 366.99L104.51 360.22L104.81 369.04L105.12 366.36L105.43 365.17L105.73 362.03L106.04 360.66L106.35 366.99L106.66 371.38L106.96 366.99L107.27 364.6L107.58 366.99L107.88 364.6L108.19 363.53L108.5 361.1L108.81 364.6L109.11 365.17L109.42 364.6L109.73 364.06L110.03 360.22L110.34 369.04L110.65 366.36L110.95 364.6L111.26 368.33L111.57 365.17L111.88 365.17L112.18 366.99L112.49 365.76L112.8 363.01L113.1 369.78L113.41 366.36L113.72 365.76L114.03 370.56L114.33 366.36L114.64 374.09L114.95 373.13L115.25 375.1L115.56 370.56L115.87 377.33L116.17 374.09L116.48 376.18L116.79 378.57L117.1 379.91L117.4 374.09L117.71 371.38L118.02 376.18L118.32 373.13L118.63 391.48L118.94 388.91L119.25 377.33L119.55 379.91L119.86 386.68L120.17 398.25L120.47 378.57L120.78 398.25L121.09 398.25L121.4 394.52L121.7 409.83L122.01 391.48L122.32 403.05L122.62 388.91L122.93 398.25L123.24 403.05L123.54 386.68L123.85 398.25L124.16 391.48L124.47 398.25L124.77 409.83L125.08 409.83L125.39 398.25L125.69 421.4L126 421.4L126.31 409.83L126.62 409.83L126.92 409.83L127.23 403.05L127.54 421.4L127.84 409.83L128.15 421.4L128.46 421.4L128.76 421.4L129.07 421.4L129.38 421.4L129.69 421.4L129.99 421.4L130.3 421.4L130.61 421.4L130.91 421.4L131.22 421.4L131.53 421.4L131.84 421.4L132.14 421.4L132.45 421.4L132.76 421.4L133.06 421.4L133.37 421.4L133.68 421.4L133.99 421.4L134.29 421.4L134.6 421.4L134.91 421.4L135.21 421.4L135.52 421.4L135.83 421.4L136.13 421.4L136.44 421.4L136.75 421.4L137.06 421.4L137.36 421.4L137.67 421.4L137.98 421.4L138.28 421.4L138.59 421.4L138.9 421.4L139.21 421.4L139.51 421.4L139.82 421.4L140.13 421.4L140.43 421.4L140.74 421.4L141.05 421.4L141.35 409.83L141.66 421.4L141.97 421.4L142.28 421.4L142.58 421.4L142.89 421.4L143.2 421.4L143.5 421.4L143.81 421.4L144.12 421.4L144.43 421.4L144.73 421.4L145.04 421.4L145.35 421.4L145.65 421.4L145.96 421.4L146.27 421.4L146.58 421.4L146.88 421.4L147.19 421.4L147.5 421.4L147.8 421.4L148.11 421.4L148.42 409.83L148.72 421.4L149.03 421.4L149.34 421.4L149.65 421.4L149.95 421.4L150.26 409.83L150.57 421.4L150.87 421.4L151.18 409.83L151.49 409.83L151.8 403.05L152.1 409.83L152.41 409.83L152.72 391.48L153.02 421.4L153.33 421.4L153.64 421.4L153.94 398.25L154.25 409.83L154.56 409.83L154.87 403.05L155.17 409.83L155.48 421.4L155.79 388.91L156.09 409.83L156.4 421.4L156.71 409.83L157.02 421.4L157.32 403.05L157.63 398.25L157.94 409.83L158.24 421.4L158.55 394.52L158.86 403.05L159.17 403.05L159.47 398.25L159.78 409.83L160.09 421.4L160.39 421.4L160.7 421.4L161.01 394.52L161.31 409.83L161.62 421.4L161.93 398.25L162.24 409.83L162.54 421.4L162.85 409.83L163.16 409.83L163.46 409.83L163.77 403.05L164.08 421.4L164.39 421.4L164.69 421.4L165 403.05L165.31 421.4L165.61 409.83L165.92 421.4L166.23 421.4L166.53 421.4L166.84 421.4L167.15 421.4L167.46 421.4L167.76 421.4L168.07 409.83L168.38 421.4L168.68 421.4L168.99 421.4L169.3 421.4L169.61 421.4L169.91 421.4L170.22 421.4L170.53 421.4L170.83 421.4L171.14 421.4L171.45 421.4L171.76 421.4L172.06 421.4L172.37 409.83L172.68 421.4L172.98 421.4L173.29 409.83L173.6 421.4L173.9 421.4L174.21 409.83L174.52 421.4L174.83 421.4L175.13 409.83L175.44 403.05L175.75 421.4L176.05 403.05L176.36 409.83L176.67 398.25L176.98 421.4L177.28 409.83L177.59 409.83L177.9 421.4L178.2 421.4L178.51 398.25L178.82 421.4L179.12 421.4L179.43 391.48L179.74 421.4L180.05 409.83L180.35 403.05L180.66 391.48L180.97 409.83L181.27 409.83L181.58 394.52L181.89 403.05L182.2 403.05L182.5 403.05L182.81 398.25L183.12 398.25L183.42 403.05L183.73 421.4L184.04 394.52L184.34 391.48L184.65 391.48L184.96 386.68L185.27 388.91L185.57 391.48L185.88 398.25L186.19 386.68L186.49 384.71L186.8 403.05L187.11 379.91L187.42 375.1L187.72 381.36L188.03 379.91L188.34 386.68L188.64 375.1L188.95 371.38L189.26 377.33L189.57 376.18L189.87 372.23L190.18 372.23L190.49 364.06L190.79 364.6L191.1 355.1L191.41 354.48L191.71 350.7L192.02 345.18L192.33 338.64L192.64 326.62L192.94 312.25L193.25 288.37L193.56 263.27L193.86 292.09L194.17 314.4L194.48 328L194.79 337.73L195.09 343.37L195.4 348.23L195.71 353.89L196.01 358.59L196.32 363.01L196.63 363.53L196.93 364.6L197.24 365.76L197.55 368.33L197.86 367.65L198.16 365.17L198.47 366.99L198.78 368.33L199.08 365.76L199.39 369.78L199.7 370.56L200.01 371.38L200.31 363.01L200.62 364.6L200.93 372.23L201.23 377.33L201.54 368.33L201.85 366.99L202.16 375.1L202.46 373.13L202.77 372.23L203.08 378.57L203.38 375.1L203.69 381.36L204 377.33L204.3 386.68L204.61 398.25L204.92 388.91L205.23 386.68L205.53 398.25L205.84 409.83L206.15 394.52L206.45 409.83L206.76 394.52L207.07 409.83L207.38 403.05L207.68 409.83L207.99 421.4L208.3 409.83L208.6 409.83L208.91 409.83L209.22 409.83L209.52 421.4L209.83 409.83" fill="none" stroke="#2233d6" stroke-width="1.3" stroke-linejoin="round"/>
<text x="46.89" y="434.9" font-size="10" text-anchor="middle" font-weight="normal" font-style="normal" fill="#111">56</text>
<text x="70.68" y="434.9" font-size="10" text-anchor="middle" font-weight="normal" font-style="normal" fill="#111">58</text>
<text x="94.47" y="434.9" font-size="10" text-anchor="middle" font-weight="normal" font-style="normal" fill="#111">60</text>
<text x="118.25" y="434.9" font-size="10" text-anchor="middle" font-weight="normal" font-style="normal" fill="#111">62</text>
<text x="142.04" y="434.9" font-size="10" text-anchor="middle" font-weight="normal" font-style="normal" fill="#111">64</text>
<text x="165.83" y="434.9" font-size="10" text-anchor="middle" font-weight="normal" font-style="normal" fill="#111">66</text>
<text x="189.61" y="434.9" font-size="10" text-anchor="middle" font-weight="normal" font-style="normal" fill="#111">68</text>
<text x="213.4" y="434.9" font-size="10" text-anchor="middle" font-weight="normal" font-style="normal" fill="#111">70</text>
<text x="32.1" y="425.2" font-size="10" text-anchor="end" font-weight="normal" font-style="normal" fill="#111">10<tspan baseline-shift="3.2" font-size="78%">0</tspan></text>
<text x="32.1" y="386.75" font-size="10" text-anchor="end" font-weight="normal" font-style="normal" fill="#111">10<tspan baseline-shift="3.2" font-size="78%">1</tspan></text>
<text x="32.1" y="348.3" font-size="10" text-anchor="end" font-weight="normal" font-style="normal" fill="#111">10<tspan baseline-shift="3.2" font-size="78%">2</tspan></text>
<text x="32.1" y="309.85" font-size="10" text-anchor="end" font-weight="normal" font-style="normal" fill="#111">10<tspan baseline-shift="3.2" font-size="78%">3</tspan></text>
<text x="32.1" y="271.4" font-size="10" text-anchor="end" font-weight="normal" font-style="normal" fill="#111">10<tspan baseline-shift="3.2" font-size="78%">4</tspan></text>
<text x="123.9" y="447.6" font-size="11" text-anchor="middle" font-weight="normal" font-style="normal" fill="#111">2<tspan font-style="italic">θ-ω</tspan> (°)</text>
<text x="8.4" y="338" font-size="11" text-anchor="middle" font-weight="normal" font-style="normal" fill="#111" transform="rotate(-90 8.4 338)" textLength="74.5" lengthAdjust="spacingAndGlyphs">Intensity (<tspan font-style="italic">a.u.</tspan>)</text>
<text x="5" y="240.1" font-size="11.6" text-anchor="start" font-weight="bold" font-style="normal" fill="#000">(c)</text>
<text x="81.5" y="378.2" font-size="10" text-anchor="start" font-weight="bold" font-style="normal" fill="#2233d6" transform="rotate(-90 81.5 378.2)">SnO<tspan baseline-shift="-2" font-size="70%">2</tspan> 002</text>
<text x="112.8" y="357.3" font-size="10" text-anchor="start" font-weight="bold" font-style="normal" fill="#2233d6" transform="rotate(-90 112.8 357.3)">(Sn,Ge)O<tspan baseline-shift="-2" font-size="70%">2</tspan> 002</text>
<text x="161.6" y="384" font-size="10" text-anchor="start" font-weight="bold" font-style="normal" fill="#2233d6" transform="rotate(-90 161.6 384)">GeO<tspan baseline-shift="-2" font-size="70%">2</tspan> 002</text>
<text x="190.4" y="318.6" font-size="10" text-anchor="start" font-weight="bold" font-style="normal" fill="#2233d6" transform="rotate(-90 190.4 318.6)">Al<tspan baseline-shift="-2" font-size="70%">2</tspan>O<tspan baseline-shift="-2" font-size="70%">3</tspan> 3<tspan text-decoration="overline">3</tspan>00</text>
<defs>
<clipPath id="hclip"><rect x="296.9" y="6.4" width="178.40000000000003" height="179.4"/></clipPath>
<filter id="b06" x="-20%" y="-20%" width="140%" height="140%"><feGaussianBlur stdDeviation="0.7"/></filter>
<filter id="b2" x="-20%" y="-50%" width="140%" height="200%"><feGaussianBlur stdDeviation="1.1"/></filter>
<filter id="speck" x="0" y="0" width="100%" height="100%"><feTurbulence type="fractalNoise" baseFrequency="0.9" numOctaves="1" seed="3" result="n"/><feColorMatrix in="n" type="matrix" values="0 0 0 0 0.25  0 0 0 0 0.45  0 0 0 0 1  0 0 0 2.2 -1.0"/><feComposite in2="SourceGraphic" operator="in"/></filter>
<linearGradient id="cbar" x1="0" y1="0" x2="0" y2="1"><stop offset="0" stop-color="rgb(80,0,0)"/><stop offset="0.06" stop-color="rgb(167,0,0)"/><stop offset="0.12" stop-color="rgb(255,0,0)"/><stop offset="0.19" stop-color="rgb(255,64,0)"/><stop offset="0.25" stop-color="rgb(255,128,0)"/><stop offset="0.31" stop-color="rgb(255,191,0)"/><stop offset="0.38" stop-color="rgb(255,255,0)"/><stop offset="0.44" stop-color="rgb(191,255,64)"/><stop offset="0.5" stop-color="rgb(128,255,128)"/><stop offset="0.56" stop-color="rgb(64,255,191)"/><stop offset="0.62" stop-color="rgb(0,255,255)"/><stop offset="0.69" stop-color="rgb(0,191,255)"/><stop offset="0.75" stop-color="rgb(0,128,255)"/><stop offset="0.81" stop-color="rgb(0,64,255)"/><stop offset="0.88" stop-color="rgb(6,58,242)"/><stop offset="0.94" stop-color="rgb(4,33,220)"/><stop offset="1" stop-color="rgb(3,8,198)"/></linearGradient>
<radialGradient id="sno"><stop offset="0" stop-color="rgb(40,150,255)" stop-opacity="0.95"/><stop offset="0.35" stop-color="rgb(20,90,250)" stop-opacity="0.8"/><stop offset="0.7" stop-color="rgb(5,30,225)" stop-opacity="0.5"/><stop offset="1" stop-color="rgb(3,8,198)" stop-opacity="0"/></radialGradient>
<linearGradient id="streak" x1="0" y1="0" x2="1" y2="0"><stop offset="0" stop-color="rgb(10,40,230)" stop-opacity="0"/><stop offset="0.15" stop-color="rgb(10,60,240)" stop-opacity="0.8"/><stop offset="0.5" stop-color="rgb(40,150,255)" stop-opacity="1"/><stop offset="0.8" stop-color="rgb(20,90,250)" stop-opacity="0.8"/><stop offset="1" stop-color="rgb(10,40,230)" stop-opacity="0"/></linearGradient>
<linearGradient id="streak2" x1="0" y1="0" x2="1" y2="0"><stop offset="0" stop-color="rgb(60,90,250)" stop-opacity="0"/><stop offset="0.3" stop-color="rgb(90,120,255)" stop-opacity="0.4"/><stop offset="1" stop-color="rgb(40,80,250)" stop-opacity="0.0"/></linearGradient>
<radialGradient id="mg"><stop offset="0" stop-color="#fff"/><stop offset="0.55" stop-color="#bbb"/><stop offset="0.8" stop-color="#555"/><stop offset="1" stop-color="#000"/></radialGradient>
<mask id="m1" maskUnits="userSpaceOnUse" x="290" y="0" width="190" height="190"><ellipse cx="396" cy="94" rx="64" ry="33" fill="url(#mg)" transform="rotate(-13.8 396 94)"/></mask>
<mask id="m2" maskUnits="userSpaceOnUse" x="290" y="0" width="190" height="190"><ellipse cx="421" cy="150" rx="36" ry="25" fill="url(#mg)" transform="rotate(-8 421 150)"/></mask>
</defs>
<rect x="296.9" y="6.4" width="178.40000000000003" height="179.4" fill="rgb(3,8,198)"/>
<g clip-path="url(#hclip)">
<g filter="url(#b2)">
</g>
<g transform="rotate(-13.8 396 94.2)" filter="url(#b06)">
<ellipse cx="396" cy="94.2" rx="39.5" ry="15.8" fill="rgb(5,40,226)"/>
<ellipse cx="396" cy="94.2" rx="38.64" ry="15.23" fill="rgb(6,48,233)"/>
<ellipse cx="396" cy="94.2" rx="37.79" ry="14.66" fill="rgb(6,56,240)"/>
<ellipse cx="396" cy="94.2" rx="36.93" ry="14.09" fill="rgb(7,64,247)"/>
<ellipse cx="396" cy="94.2" rx="36.25" ry="13.64" fill="rgb(0,36,255)"/>
<ellipse cx="396" cy="94.2" rx="35.75" ry="13.32" fill="rgb(0,56,255)"/>
<ellipse cx="396" cy="94.2" rx="35.25" ry="13" fill="rgb(0,77,255)"/>
<ellipse cx="396" cy="94.2" rx="34.75" ry="12.68" fill="rgb(0,97,255)"/>
<ellipse cx="396" cy="94.2" rx="34.25" ry="12.36" fill="rgb(0,117,255)"/>
<ellipse cx="396" cy="94.2" rx="33.76" ry="12.08" fill="rgb(0,138,255)"/>
<ellipse cx="396" cy="94.2" rx="33.28" ry="11.84" fill="rgb(0,158,255)"/>
<ellipse cx="396" cy="94.2" rx="32.8" ry="11.6" fill="rgb(0,178,255)"/>
<ellipse cx="396" cy="94.2" rx="32.32" ry="11.36" fill="rgb(0,199,255)"/>
<ellipse cx="396" cy="94.2" rx="31.84" ry="11.12" fill="rgb(0,219,255)"/>
<ellipse cx="396" cy="94.2" rx="31.36" ry="10.88" fill="rgb(0,240,255)"/>
<ellipse cx="396" cy="94.2" rx="30.82" ry="10.62" fill="rgb(5,255,250)"/>
<ellipse cx="396" cy="94.2" rx="30.1" ry="10.28" fill="rgb(26,255,229)"/>
<ellipse cx="396" cy="94.2" rx="29.38" ry="9.94" fill="rgb(46,255,209)"/>
<ellipse cx="396" cy="94.2" rx="28.66" ry="9.61" fill="rgb(66,255,189)"/>
<ellipse cx="396" cy="94.2" rx="27.94" ry="9.27" fill="rgb(87,255,168)"/>
<ellipse cx="396" cy="94.2" rx="27.22" ry="8.94" fill="rgb(107,255,148)"/>
<ellipse cx="396" cy="94.2" rx="26.5" ry="8.6" fill="rgb(128,255,128)"/>
<ellipse cx="396" cy="94.2" rx="25.94" ry="8.31" fill="rgb(148,255,107)"/>
<ellipse cx="396" cy="94.2" rx="25.38" ry="8.02" fill="rgb(168,255,87)"/>
<ellipse cx="396" cy="94.2" rx="24.82" ry="7.74" fill="rgb(189,255,66)"/>
<ellipse cx="396" cy="94.2" rx="24.26" ry="7.45" fill="rgb(209,255,46)"/>
<ellipse cx="396" cy="94.2" rx="23.7" ry="7.16" fill="rgb(229,255,26)"/>
<ellipse cx="396" cy="94.2" rx="23.14" ry="6.87" fill="rgb(250,255,5)"/>
<ellipse cx="396" cy="94.2" rx="22.53" ry="6.59" fill="rgb(255,240,0)"/>
<ellipse cx="396" cy="94.2" rx="21.9" ry="6.32" fill="rgb(255,219,0)"/>
<ellipse cx="396" cy="94.2" rx="21.27" ry="6.05" fill="rgb(255,199,0)"/>
<ellipse cx="396" cy="94.2" rx="20.64" ry="5.77" fill="rgb(255,179,0)"/>
<ellipse cx="396" cy="94.2" rx="20.01" ry="5.5" fill="rgb(255,158,0)"/>
<ellipse cx="396" cy="94.2" rx="19.39" ry="5.22" fill="rgb(255,138,0)"/>
<ellipse cx="396" cy="94.2" rx="18.76" ry="4.95" fill="rgb(255,117,0)"/>
<ellipse cx="396" cy="94.2" rx="18.13" ry="4.67" fill="rgb(255,97,0)"/>
<ellipse cx="396" cy="94.2" rx="17.5" ry="4.4" fill="rgb(255,77,0)"/>
<ellipse cx="396" cy="94.2" rx="15.5" ry="3.88" fill="rgb(255,56,0)"/>
<ellipse cx="396" cy="94.2" rx="13.5" ry="3.35" fill="rgb(255,36,0)"/>
<ellipse cx="396" cy="94.2" rx="11.5" ry="2.83" fill="rgb(255,15,0)"/>
<ellipse cx="396" cy="94.2" rx="9.5" ry="2.3" fill="rgb(248,0,0)"/>
<ellipse cx="396" cy="94.2" rx="5.7" ry="1.38" fill="rgb(219,0,0)"/>
<ellipse cx="396" cy="94.2" rx="1.9" ry="0.46" fill="rgb(191,0,0)"/>
</g>
<ellipse cx="421" cy="150" rx="30" ry="20" fill="url(#sno)" transform="rotate(-8 421 150)"/>
<g transform="rotate(-18.6 357 27.5)" filter="url(#b06)"><rect x="292" y="25.6" width="140" height="3.8" fill="url(#streak)"/><rect x="338" y="26.7" width="52" height="1.6" fill="rgb(110,230,255)" opacity="0.75"/></g>
<g transform="rotate(-15.5 325 106)"><rect x="300" y="105.5" width="60" height="1" fill="url(#streak2)"/></g>
<g mask="url(#m1)"><rect x="330" y="50" width="135" height="90" fill="#fff" filter="url(#speck)" opacity="0.75"/></g>
<g mask="url(#m2)"><rect x="380" y="120" width="85" height="62" fill="#fff" filter="url(#speck)" opacity="0.8"/></g>
</g>
<path d="M296.9 6.4h-3.5M296.9 42.28h-3.5M296.9 78.16h-3.5M296.9 114.04h-3.5M296.9 149.92h-3.5M296.9 185.8h-3.5M309.2 185.8v3.5M356.4 185.8v3.5M403.6 185.8v3.5M450.8 185.8v3.5" stroke="#222" stroke-width="0.9" fill="none"/>
<text x="290.6" y="10.2" font-size="10" text-anchor="end" font-weight="normal" font-style="normal" fill="#111">0.72</text>
<text x="290.6" y="46.08" font-size="10" text-anchor="end" font-weight="normal" font-style="normal" fill="#111">0.7</text>
<text x="290.6" y="81.96" font-size="10" text-anchor="end" font-weight="normal" font-style="normal" fill="#111">0.68</text>
<text x="290.6" y="117.84" font-size="10" text-anchor="end" font-weight="normal" font-style="normal" fill="#111">0.66</text>
<text x="290.6" y="153.72" font-size="10" text-anchor="end" font-weight="normal" font-style="normal" fill="#111">0.64</text>
<text x="290.6" y="189.6" font-size="10" text-anchor="end" font-weight="normal" font-style="normal" fill="#111">0.62</text>
<text x="308.9" y="202.7" font-size="10" text-anchor="middle" font-weight="normal" font-style="normal" fill="#111">-0.32</text>
<text x="356.1" y="202.7" font-size="10" text-anchor="middle" font-weight="normal" font-style="normal" fill="#111">-0.3</text>
<text x="403.3" y="202.7" font-size="10" text-anchor="middle" font-weight="normal" font-style="normal" fill="#111">-0.28</text>
<text x="450.5" y="202.7" font-size="10" text-anchor="middle" font-weight="normal" font-style="normal" fill="#111">-0.26</text>
<text x="366.3" y="216.2" font-size="11" text-anchor="start" font-weight="normal" font-style="normal" fill="#111"><tspan font-size="12">q</tspan><tspan font-size="8.6" baseline-shift="-5.5">x</tspan><tspan font-size="11.5"> (<tspan font-style="italic">Å</tspan><tspan font-style="italic" font-size="6.5" baseline-shift="5.4">-1</tspan>)</tspan></text>
<text x="262" y="116" font-size="11" text-anchor="start" font-weight="normal" font-style="normal" fill="#111" transform="rotate(-90 262 116)"><tspan font-size="12">q</tspan><tspan font-size="8.6" baseline-shift="-5.5">z</tspan><tspan font-size="11.5"> (<tspan font-style="italic">Å</tspan><tspan font-style="italic" font-size="6.5" baseline-shift="5.4">-1</tspan>)</tspan></text>
<text x="239" y="8.7" font-size="11.6" text-anchor="start" font-weight="bold" font-style="normal" fill="#000">(b)</text>
<text x="339" y="51" font-size="10.3" text-anchor="start" font-weight="bold" font-style="normal" fill="#fff">GeO<tspan baseline-shift="-2" font-size="70%">2</tspan> 112</text>
<text x="366.5" y="124" font-size="10.3" text-anchor="start" font-weight="bold" font-style="normal" fill="#fff">(Sn,Ge)O<tspan baseline-shift="-2" font-size="70%">2</tspan> 112</text>
<text x="407.5" y="177.8" font-size="10.3" text-anchor="start" font-weight="bold" font-style="normal" fill="#fff">SnO<tspan baseline-shift="-2" font-size="70%">2</tspan> 112</text>
<rect x="478" y="7.7" width="8.6" height="178.1" fill="url(#cbar)" stroke="#222" stroke-width="0.5"/>
<path d="M486.6 185.8h-2" stroke="#222" stroke-width="0.6"/>
<text x="489.5" y="191.3" font-size="9.8" text-anchor="start" font-weight="normal" font-style="normal" fill="#222">10<tspan baseline-shift="2.6" font-size="80%">0</tspan></text>
<path d="M486.6 141.28h-2" stroke="#222" stroke-width="0.6"/>
<text x="489.5" y="147.15" font-size="9.8" text-anchor="start" font-weight="normal" font-style="normal" fill="#222">10<tspan baseline-shift="2.6" font-size="80%">1</tspan></text>
<path d="M486.6 96.75h-2" stroke="#222" stroke-width="0.6"/>
<text x="489.5" y="103" font-size="9.8" text-anchor="start" font-weight="normal" font-style="normal" fill="#222">10<tspan baseline-shift="2.6" font-size="80%">2</tspan></text>
<path d="M486.6 52.22h-2" stroke="#222" stroke-width="0.6"/>
<text x="489.5" y="58.85" font-size="9.8" text-anchor="start" font-weight="normal" font-style="normal" fill="#222">10<tspan baseline-shift="2.6" font-size="80%">3</tspan></text>
<path d="M486.6 7.7h-2" stroke="#222" stroke-width="0.6"/>
<text x="489.5" y="14.7" font-size="9.8" text-anchor="start" font-weight="normal" font-style="normal" fill="#222">10<tspan baseline-shift="2.6" font-size="80%">4</tspan></text>
<text x="518.2" y="100.3" font-size="9.5" text-anchor="middle" font-weight="normal" font-style="normal" fill="#383838" transform="rotate(-90 518.2 100.3)" textLength="64.5" lengthAdjust="spacingAndGlyphs">Intensity (<tspan font-style="italic">a.u.</tspan>)</text>
<defs>
<radialGradient id="gGe" cx="0.38" cy="0.36" r="0.7"><stop offset="0" stop-color="#f4f4ff"/><stop offset="0.22" stop-color="#9090ea"/><stop offset="0.55" stop-color="#4442b4"/><stop offset="1" stop-color="#22207c"/></radialGradient>
<radialGradient id="gAl" cx="0.38" cy="0.36" r="0.7"><stop offset="0" stop-color="#e8fbff"/><stop offset="0.25" stop-color="#86d2f2"/><stop offset="0.65" stop-color="#3e96cc"/><stop offset="1" stop-color="#226a9a"/></radialGradient>
<radialGradient id="gO" cx="0.38" cy="0.36" r="0.7"><stop offset="0" stop-color="#ff9a8a"/><stop offset="0.3" stop-color="#f02020"/><stop offset="1" stop-color="#a00000"/></radialGradient>
</defs>
<text x="239.3" y="240.6" font-size="11.6" text-anchor="start" font-weight="bold" font-style="normal" fill="#000">(d)</text>
<text x="315.5" y="243.5" font-size="9.4" text-anchor="middle" font-weight="bold" font-style="normal" fill="#6b5fd3">Rutile</text>
<text x="316.5" y="449.5" font-size="9.4" text-anchor="middle" font-weight="bold" font-style="normal" fill="#55d6f2">Corundum</text>
<path d="M295.25 261.95L290.4 271.7M310.6 261.95L315.3 271.7M345.45 261.95L340.3 271.7M285.55 267.42L290.4 271.7M320.1 267.42L315.3 271.7M335.5 267.42L340.3 271.7M295.25 276.32L290.4 271.7M295.25 290.07L290.4 299.2M310.6 276.32L315.3 271.7M310.6 290.07L315.3 299.2M345.35 276.32L340.3 271.7M345.35 290.07L340.3 299.2M285.55 281.17L290.4 271.7M285.55 294.92L290.4 299.2M320.1 281.17L315.3 271.7M320.1 294.92L315.3 299.2M335.5 281.17L340.3 271.7M335.5 294.92L340.3 299.2M295.25 303.82L290.4 299.2M295.25 317.57L290.4 326.7M310.6 303.82L315.3 299.2M310.6 317.57L315.3 326.7M345.35 303.82L340.3 299.2M345.35 317.57L340.3 326.7M285.55 308.67L290.4 299.2M285.55 322.42L290.4 326.7M320.1 308.67L315.3 299.2M320.1 322.42L315.3 326.7M335.5 308.67L340.3 299.2M335.5 322.42L340.3 326.7M295.25 331.32L290.4 326.7M310.6 331.32L315.3 326.7M345.35 331.32L340.3 326.7M285.55 336.17L290.4 326.7M320.1 336.17L315.3 326.7M335.5 336.17L340.3 326.7" stroke="#6462c8" stroke-width="2" fill="none"/>
<path d="M295.25 343.77L290.4 351.6M310.6 343.77L315.3 351.6M345.35 343.77L340.3 351.6M285.55 348.62L290.4 351.6M320.1 348.62L315.3 351.6M335.5 348.62L340.3 351.6M285.7 369.8L290.4 366.6M285.7 380.65L290.4 388.3M320 369.8L315.3 366.6M320 380.65L315.3 388.3M335.7 369.8L340.3 366.6M335.7 380.65L340.3 388.3M294.75 374.8L290.4 366.6M294.75 385.65L290.4 388.3M310.4 374.8L315.3 366.6M310.4 385.65L315.3 388.3M345.3 374.8L340.3 366.6M345.3 385.65L340.3 388.3M294.75 406.4L290.4 403.2M294.75 417.6L290.4 425.6M310.4 406.4L315.3 403.2M310.4 417.6L315.3 425.6M345.3 406.4L340.3 403.2M345.3 417.6L340.3 425.6M285.7 411.75L290.4 403.2M285.7 422.95L290.4 425.6M320 411.75L315.3 403.2M320 422.95L315.3 425.6M335.7 411.75L340.3 403.2M335.7 422.95L340.3 425.6M293.9 355.9L290.4 351.6M293.9 363.4L290.4 366.6M312 355.9L315.3 351.6M312 363.4L315.3 366.6M343.7 355.9L340.3 351.6M343.7 363.4L340.3 366.6M286.75 392.55L290.4 388.3M286.75 400L290.4 403.2M318.95 392.55L315.3 388.3M318.95 400L315.3 403.2M336.75 392.55L340.3 388.3M336.75 400L340.3 403.2M294.2 429.4L290.4 425.6M311.75 429.4L315.3 425.6M344.15 429.4L340.3 425.6" stroke="#84c2e2" stroke-width="2" fill="none"/>
<path d="M300.1 252.2L295.25 261.95M305.9 252.2L310.6 261.95M350.6 252.2L345.45 261.95M280.7 263.15L285.55 267.42M324.9 263.15L320.1 267.42M330.7 263.15L335.5 267.42M300.1 280.95L295.25 276.32M300.1 280.95L295.25 290.07M305.9 280.95L310.6 276.32M305.9 280.95L310.6 290.07M350.4 280.95L345.35 276.32M350.4 280.95L345.35 290.07M280.7 290.65L285.55 281.17M280.7 290.65L285.55 294.92M324.9 290.65L320.1 281.17M324.9 290.65L320.1 294.92M330.7 290.65L335.5 281.17M330.7 290.65L335.5 294.92M300.1 308.45L295.25 303.82M300.1 308.45L295.25 317.57M305.9 308.45L310.6 303.82M305.9 308.45L310.6 317.57M350.4 308.45L345.35 303.82M350.4 308.45L345.35 317.57M280.7 318.15L285.55 308.67M280.7 318.15L285.55 322.42M324.9 318.15L320.1 308.67M324.9 318.15L320.1 322.42M330.7 318.15L335.5 308.67M330.7 318.15L335.5 322.42M300.1 335.95L295.25 331.32M300.1 335.95L295.25 343.77M305.9 335.95L310.6 331.32M305.9 335.95L310.6 343.77M350.4 335.95L345.35 331.32M350.4 335.95L345.35 343.77M280.7 345.65L285.55 336.17M280.7 345.65L285.55 348.62M324.9 345.65L320.1 336.17M324.9 345.65L320.1 348.62M330.7 345.65L335.5 336.17M330.7 345.65L335.5 348.62M281 373L285.7 369.8M281 373L285.7 380.65M324.7 373L320 369.8M324.7 373L320 380.65M331.1 373L335.7 369.8M331.1 373L335.7 380.65M299.1 383L294.75 374.8M299.1 383L294.75 385.65M305.5 383L310.4 374.8M305.5 383L310.4 385.65M350.3 383L345.3 374.8M350.3 383L345.3 385.65M299.1 409.6L294.75 406.4M299.1 409.6L294.75 417.6M305.5 409.6L310.4 406.4M305.5 409.6L310.4 417.6M350.3 409.6L345.3 406.4M350.3 409.6L345.3 417.6M281 420.3L285.7 411.75M281 420.3L285.7 422.95M324.7 420.3L320 411.75M324.7 420.3L320 422.95M331.1 420.3L335.7 411.75M331.1 420.3L335.7 422.95M297.4 360.2L293.9 355.9M297.4 360.2L293.9 363.4M308.7 360.2L312 355.9M308.7 360.2L312 363.4M347.1 360.2L343.7 355.9M347.1 360.2L343.7 363.4M283.1 396.8L286.75 392.55M283.1 396.8L286.75 400M322.6 396.8L318.95 392.55M322.6 396.8L318.95 400M333.2 396.8L336.75 392.55M333.2 396.8L336.75 400M298 433.2L294.2 429.4M308.2 433.2L311.75 429.4M348 433.2L344.15 429.4" stroke="#d81c24" stroke-width="2" fill="none"/>
<circle cx="300.1" cy="252.2" r="3.1" fill="url(#gO)"/>
<circle cx="305.9" cy="252.2" r="3.1" fill="url(#gO)"/>
<circle cx="350.6" cy="252.2" r="3.1" fill="url(#gO)"/>
<circle cx="274.9" cy="263.15" r="3.1" fill="url(#gO)"/>
<circle cx="280.7" cy="263.15" r="3.1" fill="url(#gO)"/>
<circle cx="324.9" cy="263.15" r="3.1" fill="url(#gO)"/>
<circle cx="330.7" cy="263.15" r="3.1" fill="url(#gO)"/>
<circle cx="300.1" cy="280.95" r="3.1" fill="url(#gO)"/>
<circle cx="305.9" cy="280.95" r="3.1" fill="url(#gO)"/>
<circle cx="350.4" cy="280.95" r="3.1" fill="url(#gO)"/>
<circle cx="356.2" cy="280.95" r="3.1" fill="url(#gO)"/>
<circle cx="274.9" cy="290.65" r="3.1" fill="url(#gO)"/>
<circle cx="280.7" cy="290.65" r="3.1" fill="url(#gO)"/>
<circle cx="324.9" cy="290.65" r="3.1" fill="url(#gO)"/>
<circle cx="330.7" cy="290.65" r="3.1" fill="url(#gO)"/>
<circle cx="300.1" cy="308.45" r="3.1" fill="url(#gO)"/>
<circle cx="305.9" cy="308.45" r="3.1" fill="url(#gO)"/>
<circle cx="350.4" cy="308.45" r="3.1" fill="url(#gO)"/>
<circle cx="356.2" cy="308.45" r="3.1" fill="url(#gO)"/>
<circle cx="274.9" cy="318.15" r="3.1" fill="url(#gO)"/>
<circle cx="280.7" cy="318.15" r="3.1" fill="url(#gO)"/>
<circle cx="324.9" cy="318.15" r="3.1" fill="url(#gO)"/>
<circle cx="330.7" cy="318.15" r="3.1" fill="url(#gO)"/>
<circle cx="300.1" cy="335.95" r="3.1" fill="url(#gO)"/>
<circle cx="305.9" cy="335.95" r="3.1" fill="url(#gO)"/>
<circle cx="350.4" cy="335.95" r="3.1" fill="url(#gO)"/>
<circle cx="356.2" cy="335.95" r="3.1" fill="url(#gO)"/>
<circle cx="274.9" cy="345.65" r="3.1" fill="url(#gO)"/>
<circle cx="280.7" cy="345.65" r="3.1" fill="url(#gO)"/>
<circle cx="324.9" cy="345.65" r="3.1" fill="url(#gO)"/>
<circle cx="330.7" cy="345.65" r="3.1" fill="url(#gO)"/>
<circle cx="274.6" cy="373" r="3.1" fill="url(#gO)"/>
<circle cx="281" cy="373" r="3.1" fill="url(#gO)"/>
<circle cx="324.7" cy="373" r="3.1" fill="url(#gO)"/>
<circle cx="331.1" cy="373" r="3.1" fill="url(#gO)"/>
<circle cx="299.1" cy="383" r="3.1" fill="url(#gO)"/>
<circle cx="305.5" cy="383" r="3.1" fill="url(#gO)"/>
<circle cx="350.3" cy="383" r="3.1" fill="url(#gO)"/>
<circle cx="356.7" cy="383" r="3.1" fill="url(#gO)"/>
<circle cx="299.1" cy="409.6" r="3.1" fill="url(#gO)"/>
<circle cx="305.5" cy="409.6" r="3.1" fill="url(#gO)"/>
<circle cx="350.3" cy="409.6" r="3.1" fill="url(#gO)"/>
<circle cx="356.7" cy="409.6" r="3.1" fill="url(#gO)"/>
<circle cx="274.6" cy="420.3" r="3.1" fill="url(#gO)"/>
<circle cx="281" cy="420.3" r="3.1" fill="url(#gO)"/>
<circle cx="324.7" cy="420.3" r="3.1" fill="url(#gO)"/>
<circle cx="331.1" cy="420.3" r="3.1" fill="url(#gO)"/>
<circle cx="297.4" cy="360.2" r="3.1" fill="url(#gO)"/>
<circle cx="308.7" cy="360.2" r="3.1" fill="url(#gO)"/>
<circle cx="347.1" cy="360.2" r="3.1" fill="url(#gO)"/>
<circle cx="283.1" cy="396.8" r="3.1" fill="url(#gO)"/>
<circle cx="322.6" cy="396.8" r="3.1" fill="url(#gO)"/>
<circle cx="333.2" cy="396.8" r="3.1" fill="url(#gO)"/>
<circle cx="298" cy="433.2" r="3.1" fill="url(#gO)"/>
<circle cx="308.2" cy="433.2" r="3.1" fill="url(#gO)"/>
<circle cx="348" cy="433.2" r="3.1" fill="url(#gO)"/>
<circle cx="290.4" cy="271.7" r="5.1" fill="url(#gGe)"/>
<circle cx="315.3" cy="271.7" r="5.1" fill="url(#gGe)"/>
<circle cx="340.3" cy="271.7" r="5.1" fill="url(#gGe)"/>
<circle cx="290.4" cy="299.2" r="5.1" fill="url(#gGe)"/>
<circle cx="315.3" cy="299.2" r="5.1" fill="url(#gGe)"/>
<circle cx="340.3" cy="299.2" r="5.1" fill="url(#gGe)"/>
<circle cx="290.4" cy="326.7" r="5.1" fill="url(#gGe)"/>
<circle cx="315.3" cy="326.7" r="5.1" fill="url(#gGe)"/>
<circle cx="340.3" cy="326.7" r="5.1" fill="url(#gGe)"/>
<circle cx="290.4" cy="351.6" r="5.6" fill="url(#gAl)"/>
<circle cx="315.3" cy="351.6" r="5.6" fill="url(#gAl)"/>
<circle cx="340.3" cy="351.6" r="5.6" fill="url(#gAl)"/>
<circle cx="290.4" cy="366.6" r="5.6" fill="url(#gAl)"/>
<circle cx="315.3" cy="366.6" r="5.6" fill="url(#gAl)"/>
<circle cx="340.3" cy="366.6" r="5.6" fill="url(#gAl)"/>
<circle cx="290.4" cy="388.3" r="5.6" fill="url(#gAl)"/>
<circle cx="315.3" cy="388.3" r="5.6" fill="url(#gAl)"/>
<circle cx="340.3" cy="388.3" r="5.6" fill="url(#gAl)"/>
<circle cx="290.4" cy="403.2" r="5.6" fill="url(#gAl)"/>
<circle cx="315.3" cy="403.2" r="5.6" fill="url(#gAl)"/>
<circle cx="340.3" cy="403.2" r="5.6" fill="url(#gAl)"/>
<circle cx="290.4" cy="425.6" r="5.6" fill="url(#gAl)"/>
<circle cx="315.3" cy="425.6" r="5.6" fill="url(#gAl)"/>
<circle cx="340.3" cy="425.6" r="5.6" fill="url(#gAl)"/>
<path d="M264 299.3H368" stroke="#e040d0" stroke-width="1.1" opacity="0.9"/>
<path d="M264 388.3H368" stroke="#f0b040" stroke-width="1.1" opacity="0.9"/>
<path d="M248.3 293.6V308.1H263.8" stroke="#111" stroke-width="1.4" fill="none"/>
<path d="M246.10000000000002 294.20000000000005L248.3 290.6L250.5 294.20000000000005Z M263.2 305.90000000000003L266.8 308.1L263.2 310.3Z" fill="#111"/>
<path d="M250.5 415.2V430.7H265.8" stroke="#111" stroke-width="1.4" fill="none"/>
<path d="M248.3 415.8L250.5 412.2L252.7 415.8Z M265.2 428.5L268.8 430.7L265.2 432.9Z" fill="#111"/>
<text x="242.6" y="296.5" font-size="8.8" text-anchor="middle" font-weight="bold" font-style="normal" fill="#111" transform="rotate(-90 242.6 296.5)">[101]</text>
<text x="255.5" y="320.6" font-size="8.9" text-anchor="middle" font-weight="bold" font-style="normal" fill="#111">[010]</text>
<text x="245" y="416" font-size="8.6" text-anchor="middle" font-weight="bold" font-style="normal" fill="#111" transform="rotate(-90 245 416)">[1<tspan text-decoration="overline">1</tspan>02]</text>
<text x="258.8" y="443.2" font-size="8.8" text-anchor="middle" font-weight="bold" font-style="normal" fill="#111">[11<tspan text-decoration="overline">2</tspan>0]</text>
<circle cx="330.8" cy="463.3" r="4.4" fill="url(#gGe2)"/>
<text x="339" y="467" font-size="9.4" text-anchor="start" font-weight="bold" font-style="normal" fill="#000" stroke="#000" stroke-width="0.25">Ge/Sn</text>
<circle cx="375.4" cy="463.3" r="4.4" fill="url(#gAl2)"/>
<text x="382.5" y="467" font-size="9.4" text-anchor="start" font-weight="bold" font-style="normal" fill="#000" stroke="#000" stroke-width="0.25">Al</text>
<circle cx="401" cy="463.3" r="2.7" fill="url(#gO)"/>
<text x="407" y="467" font-size="9.4" text-anchor="start" font-weight="bold" font-style="normal" fill="#000" stroke="#000" stroke-width="0.25">O</text>
<defs>
<radialGradient id="gGe2" cx="0.45" cy="0.42" r="0.62"><stop offset="0" stop-color="#ffffff"/><stop offset="0.28" stop-color="#e8e8ff"/><stop offset="0.5" stop-color="#5a58d0"/><stop offset="1" stop-color="#1c1a80"/></radialGradient>
<radialGradient id="gAl2" cx="0.45" cy="0.42" r="0.62"><stop offset="0" stop-color="#ffffff"/><stop offset="0.3" stop-color="#d8f0ff"/><stop offset="0.62" stop-color="#4fb4e6"/><stop offset="0.85" stop-color="#2a86b0"/><stop offset="1" stop-color="#1e6a82"/></radialGradient>
<clipPath id="eclip"><rect x="399.3" y="245.8" width="103.30000000000001" height="78.39999999999998"/></clipPath>
</defs>
<text x="378" y="241.5" font-size="11.3" text-anchor="start" font-weight="bold" font-style="normal" fill="#000">(e)</text>
<text x="404" y="240.3" font-size="8.8" text-anchor="start" font-weight="bold" font-style="normal" fill="#000" stroke="#000" stroke-width="0.25">GeO<tspan baseline-shift="-1.8" font-size="72%">2</tspan> (<tspan text-decoration="overline">1</tspan>01)</text>
<rect x="399.3" y="245.8" width="103.30000000000001" height="78.39999999999998" fill="#f928e4"/>
<g clip-path="url(#eclip)">
<path d="M327.5 165.8L338.5 178.8L327.5 191.8L316.5 178.8ZM346.6 188.3L357.6 201.3L346.6 214.3L335.6 201.3ZM327.5 210.8L338.5 223.8L327.5 236.8L316.5 223.8ZM346.6 233.3L357.6 246.3L346.6 259.3L335.6 246.3ZM327.5 255.8L338.5 268.8L327.5 281.8L316.5 268.8ZM346.6 278.3L357.6 291.3L346.6 304.3L335.6 291.3ZM327.5 300.8L338.5 313.8L327.5 326.8L316.5 313.8ZM346.6 323.3L357.6 336.3L346.6 349.3L335.6 336.3ZM327.5 345.8L338.5 358.8L327.5 371.8L316.5 358.8ZM346.6 368.3L357.6 381.3L346.6 394.3L335.6 381.3ZM327.5 390.8L338.5 403.8L327.5 416.8L316.5 403.8ZM346.6 413.3L357.6 426.3L346.6 439.3L335.6 426.3ZM365.7 165.8L376.7 178.8L365.7 191.8L354.7 178.8ZM384.8 188.3L395.8 201.3L384.8 214.3L373.8 201.3ZM365.7 210.8L376.7 223.8L365.7 236.8L354.7 223.8ZM384.8 233.3L395.8 246.3L384.8 259.3L373.8 246.3ZM365.7 255.8L376.7 268.8L365.7 281.8L354.7 268.8ZM384.8 278.3L395.8 291.3L384.8 304.3L373.8 291.3ZM365.7 300.8L376.7 313.8L365.7 326.8L354.7 313.8ZM384.8 323.3L395.8 336.3L384.8 349.3L373.8 336.3ZM365.7 345.8L376.7 358.8L365.7 371.8L354.7 358.8ZM384.8 368.3L395.8 381.3L384.8 394.3L373.8 381.3ZM365.7 390.8L376.7 403.8L365.7 416.8L354.7 403.8ZM384.8 413.3L395.8 426.3L384.8 439.3L373.8 426.3ZM403.9 165.8L414.9 178.8L403.9 191.8L392.9 178.8ZM423 188.3L434 201.3L423 214.3L412 201.3ZM403.9 210.8L414.9 223.8L403.9 236.8L392.9 223.8ZM423 233.3L434 246.3L423 259.3L412 246.3ZM403.9 255.8L414.9 268.8L403.9 281.8L392.9 268.8ZM423 278.3L434 291.3L423 304.3L412 291.3ZM403.9 300.8L414.9 313.8L403.9 326.8L392.9 313.8ZM423 323.3L434 336.3L423 349.3L412 336.3ZM403.9 345.8L414.9 358.8L403.9 371.8L392.9 358.8ZM423 368.3L434 381.3L423 394.3L412 381.3ZM403.9 390.8L414.9 403.8L403.9 416.8L392.9 403.8ZM423 413.3L434 426.3L423 439.3L412 426.3ZM442.1 165.8L453.1 178.8L442.1 191.8L431.1 178.8ZM461.2 188.3L472.2 201.3L461.2 214.3L450.2 201.3ZM442.1 210.8L453.1 223.8L442.1 236.8L431.1 223.8ZM461.2 233.3L472.2 246.3L461.2 259.3L450.2 246.3ZM442.1 255.8L453.1 268.8L442.1 281.8L431.1 268.8ZM461.2 278.3L472.2 291.3L461.2 304.3L450.2 291.3ZM442.1 300.8L453.1 313.8L442.1 326.8L431.1 313.8ZM461.2 323.3L472.2 336.3L461.2 349.3L450.2 336.3ZM442.1 345.8L453.1 358.8L442.1 371.8L431.1 358.8ZM461.2 368.3L472.2 381.3L461.2 394.3L450.2 381.3ZM442.1 390.8L453.1 403.8L442.1 416.8L431.1 403.8ZM461.2 413.3L472.2 426.3L461.2 439.3L450.2 426.3ZM480.3 165.8L491.3 178.8L480.3 191.8L469.3 178.8ZM499.4 188.3L510.4 201.3L499.4 214.3L488.4 201.3ZM480.3 210.8L491.3 223.8L480.3 236.8L469.3 223.8ZM499.4 233.3L510.4 246.3L499.4 259.3L488.4 246.3ZM480.3 255.8L491.3 268.8L480.3 281.8L469.3 268.8ZM499.4 278.3L510.4 291.3L499.4 304.3L488.4 291.3ZM480.3 300.8L491.3 313.8L480.3 326.8L469.3 313.8ZM499.4 323.3L510.4 336.3L499.4 349.3L488.4 336.3ZM480.3 345.8L491.3 358.8L480.3 371.8L469.3 358.8ZM499.4 368.3L510.4 381.3L499.4 394.3L488.4 381.3ZM480.3 390.8L491.3 403.8L480.3 416.8L469.3 403.8ZM499.4 413.3L510.4 426.3L499.4 439.3L488.4 426.3ZM518.5 165.8L529.5 178.8L518.5 191.8L507.5 178.8ZM537.6 188.3L548.6 201.3L537.6 214.3L526.6 201.3ZM518.5 210.8L529.5 223.8L518.5 236.8L507.5 223.8ZM537.6 233.3L548.6 246.3L537.6 259.3L526.6 246.3ZM518.5 255.8L529.5 268.8L518.5 281.8L507.5 268.8ZM537.6 278.3L548.6 291.3L537.6 304.3L526.6 291.3ZM518.5 300.8L529.5 313.8L518.5 326.8L507.5 313.8ZM537.6 323.3L548.6 336.3L537.6 349.3L526.6 336.3ZM518.5 345.8L529.5 358.8L518.5 371.8L507.5 358.8ZM537.6 368.3L548.6 381.3L537.6 394.3L526.6 381.3ZM518.5 390.8L529.5 403.8L518.5 416.8L507.5 403.8ZM537.6 413.3L548.6 426.3L537.6 439.3L526.6 426.3ZM556.7 165.8L567.7 178.8L556.7 191.8L545.7 178.8ZM575.8 188.3L586.8 201.3L575.8 214.3L564.8 201.3ZM556.7 210.8L567.7 223.8L556.7 236.8L545.7 223.8ZM575.8 233.3L586.8 246.3L575.8 259.3L564.8 246.3ZM556.7 255.8L567.7 268.8L556.7 281.8L545.7 268.8ZM575.8 278.3L586.8 291.3L575.8 304.3L564.8 291.3ZM556.7 300.8L567.7 313.8L556.7 326.8L545.7 313.8ZM575.8 323.3L586.8 336.3L575.8 349.3L564.8 336.3ZM556.7 345.8L567.7 358.8L556.7 371.8L545.7 358.8ZM575.8 368.3L586.8 381.3L575.8 394.3L564.8 381.3ZM556.7 390.8L567.7 403.8L556.7 416.8L545.7 403.8ZM575.8 413.3L586.8 426.3L575.8 439.3L564.8 426.3Z" fill="#ff5cf6" opacity="0.55"/>
<path d="M365.7 178.8l19.1 22.5M365.7 178.8l-19.1 22.5M384.8 201.3l19.1 22.5M384.8 201.3l-19.1 22.5M365.7 223.8l19.1 22.5M365.7 223.8l-19.1 22.5M384.8 246.3l19.1 22.5M384.8 246.3l-19.1 22.5M365.7 268.8l19.1 22.5M365.7 268.8l-19.1 22.5M384.8 291.3l19.1 22.5M384.8 291.3l-19.1 22.5M365.7 313.8l19.1 22.5M365.7 313.8l-19.1 22.5M384.8 336.3l19.1 22.5M384.8 336.3l-19.1 22.5M365.7 358.8l19.1 22.5M365.7 358.8l-19.1 22.5M384.8 381.3l19.1 22.5M384.8 381.3l-19.1 22.5M403.9 178.8l19.1 22.5M403.9 178.8l-19.1 22.5M423 201.3l19.1 22.5M423 201.3l-19.1 22.5M403.9 223.8l19.1 22.5M403.9 223.8l-19.1 22.5M423 246.3l19.1 22.5M423 246.3l-19.1 22.5M403.9 268.8l19.1 22.5M403.9 268.8l-19.1 22.5M423 291.3l19.1 22.5M423 291.3l-19.1 22.5M403.9 313.8l19.1 22.5M403.9 313.8l-19.1 22.5M423 336.3l19.1 22.5M423 336.3l-19.1 22.5M403.9 358.8l19.1 22.5M403.9 358.8l-19.1 22.5M423 381.3l19.1 22.5M423 381.3l-19.1 22.5M442.1 178.8l19.1 22.5M442.1 178.8l-19.1 22.5M461.2 201.3l19.1 22.5M461.2 201.3l-19.1 22.5M442.1 223.8l19.1 22.5M442.1 223.8l-19.1 22.5M461.2 246.3l19.1 22.5M461.2 246.3l-19.1 22.5M442.1 268.8l19.1 22.5M442.1 268.8l-19.1 22.5M461.2 291.3l19.1 22.5M461.2 291.3l-19.1 22.5M442.1 313.8l19.1 22.5M442.1 313.8l-19.1 22.5M461.2 336.3l19.1 22.5M461.2 336.3l-19.1 22.5M442.1 358.8l19.1 22.5M442.1 358.8l-19.1 22.5M461.2 381.3l19.1 22.5M461.2 381.3l-19.1 22.5M480.3 178.8l19.1 22.5M480.3 178.8l-19.1 22.5M499.4 201.3l19.1 22.5M499.4 201.3l-19.1 22.5M480.3 223.8l19.1 22.5M480.3 223.8l-19.1 22.5M499.4 246.3l19.1 22.5M499.4 246.3l-19.1 22.5M480.3 268.8l19.1 22.5M480.3 268.8l-19.1 22.5M499.4 291.3l19.1 22.5M499.4 291.3l-19.1 22.5M480.3 313.8l19.1 22.5M480.3 313.8l-19.1 22.5M499.4 336.3l19.1 22.5M499.4 336.3l-19.1 22.5M480.3 358.8l19.1 22.5M480.3 358.8l-19.1 22.5M499.4 381.3l19.1 22.5M499.4 381.3l-19.1 22.5M518.5 178.8l19.1 22.5M518.5 178.8l-19.1 22.5M537.6 201.3l19.1 22.5M537.6 201.3l-19.1 22.5M518.5 223.8l19.1 22.5M518.5 223.8l-19.1 22.5M537.6 246.3l19.1 22.5M537.6 246.3l-19.1 22.5M518.5 268.8l19.1 22.5M518.5 268.8l-19.1 22.5M537.6 291.3l19.1 22.5M537.6 291.3l-19.1 22.5M518.5 313.8l19.1 22.5M518.5 313.8l-19.1 22.5M537.6 336.3l19.1 22.5M537.6 336.3l-19.1 22.5M518.5 358.8l19.1 22.5M518.5 358.8l-19.1 22.5M537.6 381.3l19.1 22.5M537.6 381.3l-19.1 22.5" stroke="#dc1a8c" stroke-width="1.3" fill="none" opacity="0.85"/>
<circle cx="358.7" cy="178.3" r="1.9" fill="#f43aa0" stroke="#e41430" stroke-width="1.2"/>
<circle cx="374" cy="166" r="1.9" fill="#f43aa0" stroke="#e41430" stroke-width="1.2"/>
<circle cx="378.4" cy="189.2" r="1.9" fill="#f43aa0" stroke="#e41430" stroke-width="1.2"/>
<circle cx="392.5" cy="201.8" r="1.9" fill="#f43aa0" stroke="#e41430" stroke-width="1.2"/>
<circle cx="376.3" cy="213.8" r="1.9" fill="#f43aa0" stroke="#e41430" stroke-width="1.2"/>
<circle cx="358.7" cy="223.3" r="1.9" fill="#f43aa0" stroke="#e41430" stroke-width="1.2"/>
<circle cx="374" cy="211" r="1.9" fill="#f43aa0" stroke="#e41430" stroke-width="1.2"/>
<circle cx="378.4" cy="234.2" r="1.9" fill="#f43aa0" stroke="#e41430" stroke-width="1.2"/>
<circle cx="392.5" cy="246.8" r="1.9" fill="#f43aa0" stroke="#e41430" stroke-width="1.2"/>
<circle cx="376.3" cy="258.8" r="1.9" fill="#f43aa0" stroke="#e41430" stroke-width="1.2"/>
<circle cx="358.7" cy="268.3" r="1.9" fill="#f43aa0" stroke="#e41430" stroke-width="1.2"/>
<circle cx="374" cy="256" r="1.9" fill="#f43aa0" stroke="#e41430" stroke-width="1.2"/>
<circle cx="378.4" cy="279.2" r="1.9" fill="#f43aa0" stroke="#e41430" stroke-width="1.2"/>
<circle cx="392.5" cy="291.8" r="1.9" fill="#f43aa0" stroke="#e41430" stroke-width="1.2"/>
<circle cx="376.3" cy="303.8" r="1.9" fill="#f43aa0" stroke="#e41430" stroke-width="1.2"/>
<circle cx="358.7" cy="313.3" r="1.9" fill="#f43aa0" stroke="#e41430" stroke-width="1.2"/>
<circle cx="374" cy="301" r="1.9" fill="#f43aa0" stroke="#e41430" stroke-width="1.2"/>
<circle cx="378.4" cy="324.2" r="1.9" fill="#f43aa0" stroke="#e41430" stroke-width="1.2"/>
<circle cx="392.5" cy="336.8" r="1.9" fill="#f43aa0" stroke="#e41430" stroke-width="1.2"/>
<circle cx="376.3" cy="348.8" r="1.9" fill="#f43aa0" stroke="#e41430" stroke-width="1.2"/>
<circle cx="358.7" cy="358.3" r="1.9" fill="#f43aa0" stroke="#e41430" stroke-width="1.2"/>
<circle cx="374" cy="346" r="1.9" fill="#f43aa0" stroke="#e41430" stroke-width="1.2"/>
<circle cx="378.4" cy="369.2" r="1.9" fill="#f43aa0" stroke="#e41430" stroke-width="1.2"/>
<circle cx="392.5" cy="381.8" r="1.9" fill="#f43aa0" stroke="#e41430" stroke-width="1.2"/>
<circle cx="376.3" cy="393.8" r="1.9" fill="#f43aa0" stroke="#e41430" stroke-width="1.2"/>
<circle cx="396.9" cy="178.3" r="1.9" fill="#f43aa0" stroke="#e41430" stroke-width="1.2"/>
<circle cx="412.2" cy="166" r="1.9" fill="#f43aa0" stroke="#e41430" stroke-width="1.2"/>
<circle cx="416.6" cy="189.2" r="1.9" fill="#f43aa0" stroke="#e41430" stroke-width="1.2"/>
<circle cx="430.7" cy="201.8" r="1.9" fill="#f43aa0" stroke="#e41430" stroke-width="1.2"/>
<circle cx="414.5" cy="213.8" r="1.9" fill="#f43aa0" stroke="#e41430" stroke-width="1.2"/>
<circle cx="396.9" cy="223.3" r="1.9" fill="#f43aa0" stroke="#e41430" stroke-width="1.2"/>
<circle cx="412.2" cy="211" r="1.9" fill="#f43aa0" stroke="#e41430" stroke-width="1.2"/>
<circle cx="416.6" cy="234.2" r="1.9" fill="#f43aa0" stroke="#e41430" stroke-width="1.2"/>
<circle cx="430.7" cy="246.8" r="1.9" fill="#f43aa0" stroke="#e41430" stroke-width="1.2"/>
<circle cx="414.5" cy="258.8" r="1.9" fill="#f43aa0" stroke="#e41430" stroke-width="1.2"/>
<circle cx="396.9" cy="268.3" r="1.9" fill="#f43aa0" stroke="#e41430" stroke-width="1.2"/>
<circle cx="412.2" cy="256" r="1.9" fill="#f43aa0" stroke="#e41430" stroke-width="1.2"/>
<circle cx="416.6" cy="279.2" r="1.9" fill="#f43aa0" stroke="#e41430" stroke-width="1.2"/>
<circle cx="430.7" cy="291.8" r="1.9" fill="#f43aa0" stroke="#e41430" stroke-width="1.2"/>
<circle cx="414.5" cy="303.8" r="1.9" fill="#f43aa0" stroke="#e41430" stroke-width="1.2"/>
<circle cx="396.9" cy="313.3" r="1.9" fill="#f43aa0" stroke="#e41430" stroke-width="1.2"/>
<circle cx="412.2" cy="301" r="1.9" fill="#f43aa0" stroke="#e41430" stroke-width="1.2"/>
<circle cx="416.6" cy="324.2" r="1.9" fill="#f43aa0" stroke="#e41430" stroke-width="1.2"/>
<circle cx="430.7" cy="336.8" r="1.9" fill="#f43aa0" stroke="#e41430" stroke-width="1.2"/>
<circle cx="414.5" cy="348.8" r="1.9" fill="#f43aa0" stroke="#e41430" stroke-width="1.2"/>
<circle cx="396.9" cy="358.3" r="1.9" fill="#f43aa0" stroke="#e41430" stroke-width="1.2"/>
<circle cx="412.2" cy="346" r="1.9" fill="#f43aa0" stroke="#e41430" stroke-width="1.2"/>
<circle cx="416.6" cy="369.2" r="1.9" fill="#f43aa0" stroke="#e41430" stroke-width="1.2"/>
<circle cx="430.7" cy="381.8" r="1.9" fill="#f43aa0" stroke="#e41430" stroke-width="1.2"/>
<circle cx="414.5" cy="393.8" r="1.9" fill="#f43aa0" stroke="#e41430" stroke-width="1.2"/>
<circle cx="435.1" cy="178.3" r="1.9" fill="#f43aa0" stroke="#e41430" stroke-width="1.2"/>
<circle cx="450.4" cy="166" r="1.9" fill="#f43aa0" stroke="#e41430" stroke-width="1.2"/>
<circle cx="454.8" cy="189.2" r="1.9" fill="#f43aa0" stroke="#e41430" stroke-width="1.2"/>
<circle cx="468.9" cy="201.8" r="1.9" fill="#f43aa0" stroke="#e41430" stroke-width="1.2"/>
<circle cx="452.7" cy="213.8" r="1.9" fill="#f43aa0" stroke="#e41430" stroke-width="1.2"/>
<circle cx="435.1" cy="223.3" r="1.9" fill="#f43aa0" stroke="#e41430" stroke-width="1.2"/>
<circle cx="450.4" cy="211" r="1.9" fill="#f43aa0" stroke="#e41430" stroke-width="1.2"/>
<circle cx="454.8" cy="234.2" r="1.9" fill="#f43aa0" stroke="#e41430" stroke-width="1.2"/>
<circle cx="468.9" cy="246.8" r="1.9" fill="#f43aa0" stroke="#e41430" stroke-width="1.2"/>
<circle cx="452.7" cy="258.8" r="1.9" fill="#f43aa0" stroke="#e41430" stroke-width="1.2"/>
<circle cx="435.1" cy="268.3" r="1.9" fill="#f43aa0" stroke="#e41430" stroke-width="1.2"/>
<circle cx="450.4" cy="256" r="1.9" fill="#f43aa0" stroke="#e41430" stroke-width="1.2"/>
<circle cx="454.8" cy="279.2" r="1.9" fill="#f43aa0" stroke="#e41430" stroke-width="1.2"/>
<circle cx="468.9" cy="291.8" r="1.9" fill="#f43aa0" stroke="#e41430" stroke-width="1.2"/>
<circle cx="452.7" cy="303.8" r="1.9" fill="#f43aa0" stroke="#e41430" stroke-width="1.2"/>
<circle cx="435.1" cy="313.3" r="1.9" fill="#f43aa0" stroke="#e41430" stroke-width="1.2"/>
<circle cx="450.4" cy="301" r="1.9" fill="#f43aa0" stroke="#e41430" stroke-width="1.2"/>
<circle cx="454.8" cy="324.2" r="1.9" fill="#f43aa0" stroke="#e41430" stroke-width="1.2"/>
<circle cx="468.9" cy="336.8" r="1.9" fill="#f43aa0" stroke="#e41430" stroke-width="1.2"/>
<circle cx="452.7" cy="348.8" r="1.9" fill="#f43aa0" stroke="#e41430" stroke-width="1.2"/>
<circle cx="435.1" cy="358.3" r="1.9" fill="#f43aa0" stroke="#e41430" stroke-width="1.2"/>
<circle cx="450.4" cy="346" r="1.9" fill="#f43aa0" stroke="#e41430" stroke-width="1.2"/>
<circle cx="454.8" cy="369.2" r="1.9" fill="#f43aa0" stroke="#e41430" stroke-width="1.2"/>
<circle cx="468.9" cy="381.8" r="1.9" fill="#f43aa0" stroke="#e41430" stroke-width="1.2"/>
<circle cx="452.7" cy="393.8" r="1.9" fill="#f43aa0" stroke="#e41430" stroke-width="1.2"/>
<circle cx="473.3" cy="178.3" r="1.9" fill="#f43aa0" stroke="#e41430" stroke-width="1.2"/>
<circle cx="488.6" cy="166" r="1.9" fill="#f43aa0" stroke="#e41430" stroke-width="1.2"/>
<circle cx="493" cy="189.2" r="1.9" fill="#f43aa0" stroke="#e41430" stroke-width="1.2"/>
<circle cx="507.1" cy="201.8" r="1.9" fill="#f43aa0" stroke="#e41430" stroke-width="1.2"/>
<circle cx="490.9" cy="213.8" r="1.9" fill="#f43aa0" stroke="#e41430" stroke-width="1.2"/>
<circle cx="473.3" cy="223.3" r="1.9" fill="#f43aa0" stroke="#e41430" stroke-width="1.2"/>
<circle cx="488.6" cy="211" r="1.9" fill="#f43aa0" stroke="#e41430" stroke-width="1.2"/>
<circle cx="493" cy="234.2" r="1.9" fill="#f43aa0" stroke="#e41430" stroke-width="1.2"/>
<circle cx="507.1" cy="246.8" r="1.9" fill="#f43aa0" stroke="#e41430" stroke-width="1.2"/>
<circle cx="490.9" cy="258.8" r="1.9" fill="#f43aa0" stroke="#e41430" stroke-width="1.2"/>
<circle cx="473.3" cy="268.3" r="1.9" fill="#f43aa0" stroke="#e41430" stroke-width="1.2"/>
<circle cx="488.6" cy="256" r="1.9" fill="#f43aa0" stroke="#e41430" stroke-width="1.2"/>
<circle cx="493" cy="279.2" r="1.9" fill="#f43aa0" stroke="#e41430" stroke-width="1.2"/>
<circle cx="507.1" cy="291.8" r="1.9" fill="#f43aa0" stroke="#e41430" stroke-width="1.2"/>
<circle cx="490.9" cy="303.8" r="1.9" fill="#f43aa0" stroke="#e41430" stroke-width="1.2"/>
<circle cx="473.3" cy="313.3" r="1.9" fill="#f43aa0" stroke="#e41430" stroke-width="1.2"/>
<circle cx="488.6" cy="301" r="1.9" fill="#f43aa0" stroke="#e41430" stroke-width="1.2"/>
<circle cx="493" cy="324.2" r="1.9" fill="#f43aa0" stroke="#e41430" stroke-width="1.2"/>
<circle cx="507.1" cy="336.8" r="1.9" fill="#f43aa0" stroke="#e41430" stroke-width="1.2"/>
<circle cx="490.9" cy="348.8" r="1.9" fill="#f43aa0" stroke="#e41430" stroke-width="1.2"/>
<circle cx="473.3" cy="358.3" r="1.9" fill="#f43aa0" stroke="#e41430" stroke-width="1.2"/>
<circle cx="488.6" cy="346" r="1.9" fill="#f43aa0" stroke="#e41430" stroke-width="1.2"/>
<circle cx="493" cy="369.2" r="1.9" fill="#f43aa0" stroke="#e41430" stroke-width="1.2"/>
<circle cx="507.1" cy="381.8" r="1.9" fill="#f43aa0" stroke="#e41430" stroke-width="1.2"/>
<circle cx="490.9" cy="393.8" r="1.9" fill="#f43aa0" stroke="#e41430" stroke-width="1.2"/>
<circle cx="511.5" cy="178.3" r="1.9" fill="#f43aa0" stroke="#e41430" stroke-width="1.2"/>
<circle cx="526.8" cy="166" r="1.9" fill="#f43aa0" stroke="#e41430" stroke-width="1.2"/>
<circle cx="531.2" cy="189.2" r="1.9" fill="#f43aa0" stroke="#e41430" stroke-width="1.2"/>
<circle cx="545.3" cy="201.8" r="1.9" fill="#f43aa0" stroke="#e41430" stroke-width="1.2"/>
<circle cx="529.1" cy="213.8" r="1.9" fill="#f43aa0" stroke="#e41430" stroke-width="1.2"/>
<circle cx="511.5" cy="223.3" r="1.9" fill="#f43aa0" stroke="#e41430" stroke-width="1.2"/>
<circle cx="526.8" cy="211" r="1.9" fill="#f43aa0" stroke="#e41430" stroke-width="1.2"/>
<circle cx="531.2" cy="234.2" r="1.9" fill="#f43aa0" stroke="#e41430" stroke-width="1.2"/>
<circle cx="545.3" cy="246.8" r="1.9" fill="#f43aa0" stroke="#e41430" stroke-width="1.2"/>
<circle cx="529.1" cy="258.8" r="1.9" fill="#f43aa0" stroke="#e41430" stroke-width="1.2"/>
<circle cx="511.5" cy="268.3" r="1.9" fill="#f43aa0" stroke="#e41430" stroke-width="1.2"/>
<circle cx="526.8" cy="256" r="1.9" fill="#f43aa0" stroke="#e41430" stroke-width="1.2"/>
<circle cx="531.2" cy="279.2" r="1.9" fill="#f43aa0" stroke="#e41430" stroke-width="1.2"/>
<circle cx="545.3" cy="291.8" r="1.9" fill="#f43aa0" stroke="#e41430" stroke-width="1.2"/>
<circle cx="529.1" cy="303.8" r="1.9" fill="#f43aa0" stroke="#e41430" stroke-width="1.2"/>
<circle cx="511.5" cy="313.3" r="1.9" fill="#f43aa0" stroke="#e41430" stroke-width="1.2"/>
<circle cx="526.8" cy="301" r="1.9" fill="#f43aa0" stroke="#e41430" stroke-width="1.2"/>
<circle cx="531.2" cy="324.2" r="1.9" fill="#f43aa0" stroke="#e41430" stroke-width="1.2"/>
<circle cx="545.3" cy="336.8" r="1.9" fill="#f43aa0" stroke="#e41430" stroke-width="1.2"/>
<circle cx="529.1" cy="348.8" r="1.9" fill="#f43aa0" stroke="#e41430" stroke-width="1.2"/>
<circle cx="511.5" cy="358.3" r="1.9" fill="#f43aa0" stroke="#e41430" stroke-width="1.2"/>
<circle cx="526.8" cy="346" r="1.9" fill="#f43aa0" stroke="#e41430" stroke-width="1.2"/>
<circle cx="531.2" cy="369.2" r="1.9" fill="#f43aa0" stroke="#e41430" stroke-width="1.2"/>
<circle cx="545.3" cy="381.8" r="1.9" fill="#f43aa0" stroke="#e41430" stroke-width="1.2"/>
<circle cx="529.1" cy="393.8" r="1.9" fill="#f43aa0" stroke="#e41430" stroke-width="1.2"/>
<circle cx="365.7" cy="178.8" r="4.3" fill="url(#gGe2)"/>
<circle cx="384.8" cy="201.3" r="4.3" fill="url(#gGe2)"/>
<circle cx="365.7" cy="223.8" r="4.3" fill="url(#gGe2)"/>
<circle cx="384.8" cy="246.3" r="4.3" fill="url(#gGe2)"/>
<circle cx="365.7" cy="268.8" r="4.3" fill="url(#gGe2)"/>
<circle cx="384.8" cy="291.3" r="4.3" fill="url(#gGe2)"/>
<circle cx="365.7" cy="313.8" r="4.3" fill="url(#gGe2)"/>
<circle cx="384.8" cy="336.3" r="4.3" fill="url(#gGe2)"/>
<circle cx="365.7" cy="358.8" r="4.3" fill="url(#gGe2)"/>
<circle cx="384.8" cy="381.3" r="4.3" fill="url(#gGe2)"/>
<circle cx="403.9" cy="178.8" r="4.3" fill="url(#gGe2)"/>
<circle cx="423" cy="201.3" r="4.3" fill="url(#gGe2)"/>
<circle cx="403.9" cy="223.8" r="4.3" fill="url(#gGe2)"/>
<circle cx="423" cy="246.3" r="4.3" fill="url(#gGe2)"/>
<circle cx="403.9" cy="268.8" r="4.3" fill="url(#gGe2)"/>
<circle cx="423" cy="291.3" r="4.3" fill="url(#gGe2)"/>
<circle cx="403.9" cy="313.8" r="4.3" fill="url(#gGe2)"/>
<circle cx="423" cy="336.3" r="4.3" fill="url(#gGe2)"/>
<circle cx="403.9" cy="358.8" r="4.3" fill="url(#gGe2)"/>
<circle cx="423" cy="381.3" r="4.3" fill="url(#gGe2)"/>
<circle cx="442.1" cy="178.8" r="4.3" fill="url(#gGe2)"/>
<circle cx="461.2" cy="201.3" r="4.3" fill="url(#gGe2)"/>
<circle cx="442.1" cy="223.8" r="4.3" fill="url(#gGe2)"/>
<circle cx="461.2" cy="246.3" r="4.3" fill="url(#gGe2)"/>
<circle cx="442.1" cy="268.8" r="4.3" fill="url(#gGe2)"/>
<circle cx="461.2" cy="291.3" r="4.3" fill="url(#gGe2)"/>
<circle cx="442.1" cy="313.8" r="4.3" fill="url(#gGe2)"/>
<circle cx="461.2" cy="336.3" r="4.3" fill="url(#gGe2)"/>
<circle cx="442.1" cy="358.8" r="4.3" fill="url(#gGe2)"/>
<circle cx="461.2" cy="381.3" r="4.3" fill="url(#gGe2)"/>
<circle cx="480.3" cy="178.8" r="4.3" fill="url(#gGe2)"/>
<circle cx="499.4" cy="201.3" r="4.3" fill="url(#gGe2)"/>
<circle cx="480.3" cy="223.8" r="4.3" fill="url(#gGe2)"/>
<circle cx="499.4" cy="246.3" r="4.3" fill="url(#gGe2)"/>
<circle cx="480.3" cy="268.8" r="4.3" fill="url(#gGe2)"/>
<circle cx="499.4" cy="291.3" r="4.3" fill="url(#gGe2)"/>
<circle cx="480.3" cy="313.8" r="4.3" fill="url(#gGe2)"/>
<circle cx="499.4" cy="336.3" r="4.3" fill="url(#gGe2)"/>
<circle cx="480.3" cy="358.8" r="4.3" fill="url(#gGe2)"/>
<circle cx="499.4" cy="381.3" r="4.3" fill="url(#gGe2)"/>
<circle cx="518.5" cy="178.8" r="4.3" fill="url(#gGe2)"/>
<circle cx="537.6" cy="201.3" r="4.3" fill="url(#gGe2)"/>
<circle cx="518.5" cy="223.8" r="4.3" fill="url(#gGe2)"/>
<circle cx="537.6" cy="246.3" r="4.3" fill="url(#gGe2)"/>
<circle cx="518.5" cy="268.8" r="4.3" fill="url(#gGe2)"/>
<circle cx="537.6" cy="291.3" r="4.3" fill="url(#gGe2)"/>
<circle cx="518.5" cy="313.8" r="4.3" fill="url(#gGe2)"/>
<circle cx="537.6" cy="336.3" r="4.3" fill="url(#gGe2)"/>
<circle cx="518.5" cy="358.8" r="4.3" fill="url(#gGe2)"/>
<circle cx="537.6" cy="381.3" r="4.3" fill="url(#gGe2)"/>
</g>
<path d="M442.1 268.8H480.3V313.8H442.1ZM442.1 299.1H480.3" stroke="#222" stroke-width="0.9" fill="none"/>
<path d="M444.1 268.8H479.3M480.3 270.8V311.8" stroke="#fff" stroke-width="2.2" fill="none"/>
<path d="M441.6 268.8l5 -3v6zM480.8 268.8l-5 -3v6z M480.3 268.3l-3 5h6z M480.3 314.3l-3 -5h6z" fill="#fff"/>
<text x="460.9" y="263.5" font-size="8.8" text-anchor="middle" font-weight="bold" font-style="normal" fill="#fff">4.40 Å</text>
<text x="495.7" y="290.3" font-size="8.8" text-anchor="middle" font-weight="bold" font-style="normal" fill="#fff" transform="rotate(-90 495.7 290.3)">5.25 Å</text>
<path d="M397.9 246.8V326.3H501.6" stroke="#111" stroke-width="1.5" fill="none"/>
<path d="M395.5 248.0L397.9 243.0L400.3 248.0ZM500.1 323.9L505.1 326.3L500.1 328.7Z" fill="#111"/>
<text x="392.6" y="285.3" font-size="8.4" text-anchor="middle" font-weight="bold" font-style="normal" fill="#111" transform="rotate(-90 392.6 285.3)">[<tspan text-decoration="overline">1</tspan>01]</text>
<text x="450.8" y="337.6" font-size="8.6" text-anchor="middle" font-weight="bold" font-style="normal" fill="#111">[010]</text>
<defs>
<clipPath id="fclip"><rect x="399.4" y="359.5" width="103.20000000000005" height="77.89999999999998"/></clipPath>
</defs>
<text x="378" y="351" font-size="11.3" text-anchor="start" font-weight="bold" font-style="normal" fill="#000">(f)</text>
<text x="406" y="353.3" font-size="8.8" text-anchor="start" font-weight="bold" font-style="normal" fill="#000" stroke="#000" stroke-width="0.25">Al<tspan baseline-shift="-1.8" font-size="72%">2</tspan>O<tspan baseline-shift="-1.8" font-size="72%">3</tspan> (1<tspan text-decoration="overline">1</tspan>02)</text>
<rect x="399.4" y="359.5" width="103.20000000000005" height="77.89999999999998" fill="#f9cb55"/>
<g clip-path="url(#fclip)">
<path d="M373.8 302.4l4 5l5 -2" stroke="#f0a030" stroke-width="1.4" fill="none" opacity="0.8"/>
<circle cx="373.8" cy="302.4" r="2.1" fill="#f49a28" opacity="0.9"/>
<path d="M364.8 314.4l3 8l-3 4" stroke="#e4c458" stroke-width="1.6" fill="none" opacity="0.9"/>
<circle cx="368.3" cy="319.4" r="2.4" fill="#e0c860" opacity="0.9"/>
<path d="M373.8 335.3l4 5l5 -2" stroke="#f0a030" stroke-width="1.4" fill="none" opacity="0.8"/>
<circle cx="373.8" cy="335.3" r="2.1" fill="#f49a28" opacity="0.9"/>
<path d="M364.8 347.3l3 8l-3 4" stroke="#e4c458" stroke-width="1.6" fill="none" opacity="0.9"/>
<circle cx="368.3" cy="352.3" r="2.4" fill="#e0c860" opacity="0.9"/>
<path d="M373.8 368.2l4 5l5 -2" stroke="#f0a030" stroke-width="1.4" fill="none" opacity="0.8"/>
<circle cx="373.8" cy="368.2" r="2.1" fill="#f49a28" opacity="0.9"/>
<path d="M364.8 380.2l3 8l-3 4" stroke="#e4c458" stroke-width="1.6" fill="none" opacity="0.9"/>
<circle cx="368.3" cy="385.2" r="2.4" fill="#e0c860" opacity="0.9"/>
<path d="M373.8 401.1l4 5l5 -2" stroke="#f0a030" stroke-width="1.4" fill="none" opacity="0.8"/>
<circle cx="373.8" cy="401.1" r="2.1" fill="#f49a28" opacity="0.9"/>
<path d="M364.8 413.1l3 8l-3 4" stroke="#e4c458" stroke-width="1.6" fill="none" opacity="0.9"/>
<circle cx="368.3" cy="418.1" r="2.4" fill="#e0c860" opacity="0.9"/>
<path d="M373.8 434l4 5l5 -2" stroke="#f0a030" stroke-width="1.4" fill="none" opacity="0.8"/>
<circle cx="373.8" cy="434" r="2.1" fill="#f49a28" opacity="0.9"/>
<path d="M364.8 446l3 8l-3 4" stroke="#e4c458" stroke-width="1.6" fill="none" opacity="0.9"/>
<circle cx="368.3" cy="451" r="2.4" fill="#e0c860" opacity="0.9"/>
<path d="M412.4 302.4l4 5l5 -2" stroke="#f0a030" stroke-width="1.4" fill="none" opacity="0.8"/>
<circle cx="412.4" cy="302.4" r="2.1" fill="#f49a28" opacity="0.9"/>
<path d="M403.4 314.4l3 8l-3 4" stroke="#e4c458" stroke-width="1.6" fill="none" opacity="0.9"/>
<circle cx="406.9" cy="319.4" r="2.4" fill="#e0c860" opacity="0.9"/>
<path d="M412.4 335.3l4 5l5 -2" stroke="#f0a030" stroke-width="1.4" fill="none" opacity="0.8"/>
<circle cx="412.4" cy="335.3" r="2.1" fill="#f49a28" opacity="0.9"/>
<path d="M403.4 347.3l3 8l-3 4" stroke="#e4c458" stroke-width="1.6" fill="none" opacity="0.9"/>
<circle cx="406.9" cy="352.3" r="2.4" fill="#e0c860" opacity="0.9"/>
<path d="M412.4 368.2l4 5l5 -2" stroke="#f0a030" stroke-width="1.4" fill="none" opacity="0.8"/>
<circle cx="412.4" cy="368.2" r="2.1" fill="#f49a28" opacity="0.9"/>
<path d="M403.4 380.2l3 8l-3 4" stroke="#e4c458" stroke-width="1.6" fill="none" opacity="0.9"/>
<circle cx="406.9" cy="385.2" r="2.4" fill="#e0c860" opacity="0.9"/>
<path d="M412.4 401.1l4 5l5 -2" stroke="#f0a030" stroke-width="1.4" fill="none" opacity="0.8"/>
<circle cx="412.4" cy="401.1" r="2.1" fill="#f49a28" opacity="0.9"/>
<path d="M403.4 413.1l3 8l-3 4" stroke="#e4c458" stroke-width="1.6" fill="none" opacity="0.9"/>
<circle cx="406.9" cy="418.1" r="2.4" fill="#e0c860" opacity="0.9"/>
<path d="M412.4 434l4 5l5 -2" stroke="#f0a030" stroke-width="1.4" fill="none" opacity="0.8"/>
<circle cx="412.4" cy="434" r="2.1" fill="#f49a28" opacity="0.9"/>
<path d="M403.4 446l3 8l-3 4" stroke="#e4c458" stroke-width="1.6" fill="none" opacity="0.9"/>
<circle cx="406.9" cy="451" r="2.4" fill="#e0c860" opacity="0.9"/>
<path d="M451 302.4l4 5l5 -2" stroke="#f0a030" stroke-width="1.4" fill="none" opacity="0.8"/>
<circle cx="451" cy="302.4" r="2.1" fill="#f49a28" opacity="0.9"/>
<path d="M442 314.4l3 8l-3 4" stroke="#e4c458" stroke-width="1.6" fill="none" opacity="0.9"/>
<circle cx="445.5" cy="319.4" r="2.4" fill="#e0c860" opacity="0.9"/>
<path d="M451 335.3l4 5l5 -2" stroke="#f0a030" stroke-width="1.4" fill="none" opacity="0.8"/>
<circle cx="451" cy="335.3" r="2.1" fill="#f49a28" opacity="0.9"/>
<path d="M442 347.3l3 8l-3 4" stroke="#e4c458" stroke-width="1.6" fill="none" opacity="0.9"/>
<circle cx="445.5" cy="352.3" r="2.4" fill="#e0c860" opacity="0.9"/>
<path d="M451 368.2l4 5l5 -2" stroke="#f0a030" stroke-width="1.4" fill="none" opacity="0.8"/>
<circle cx="451" cy="368.2" r="2.1" fill="#f49a28" opacity="0.9"/>
<path d="M442 380.2l3 8l-3 4" stroke="#e4c458" stroke-width="1.6" fill="none" opacity="0.9"/>
<circle cx="445.5" cy="385.2" r="2.4" fill="#e0c860" opacity="0.9"/>
<path d="M451 401.1l4 5l5 -2" stroke="#f0a030" stroke-width="1.4" fill="none" opacity="0.8"/>
<circle cx="451" cy="401.1" r="2.1" fill="#f49a28" opacity="0.9"/>
<path d="M442 413.1l3 8l-3 4" stroke="#e4c458" stroke-width="1.6" fill="none" opacity="0.9"/>
<circle cx="445.5" cy="418.1" r="2.4" fill="#e0c860" opacity="0.9"/>
<path d="M451 434l4 5l5 -2" stroke="#f0a030" stroke-width="1.4" fill="none" opacity="0.8"/>
<circle cx="451" cy="434" r="2.1" fill="#f49a28" opacity="0.9"/>
<path d="M442 446l3 8l-3 4" stroke="#e4c458" stroke-width="1.6" fill="none" opacity="0.9"/>
<circle cx="445.5" cy="451" r="2.4" fill="#e0c860" opacity="0.9"/>
<path d="M489.6 302.4l4 5l5 -2" stroke="#f0a030" stroke-width="1.4" fill="none" opacity="0.8"/>
<circle cx="489.6" cy="302.4" r="2.1" fill="#f49a28" opacity="0.9"/>
<path d="M480.6 314.4l3 8l-3 4" stroke="#e4c458" stroke-width="1.6" fill="none" opacity="0.9"/>
<circle cx="484.1" cy="319.4" r="2.4" fill="#e0c860" opacity="0.9"/>
<path d="M489.6 335.3l4 5l5 -2" stroke="#f0a030" stroke-width="1.4" fill="none" opacity="0.8"/>
<circle cx="489.6" cy="335.3" r="2.1" fill="#f49a28" opacity="0.9"/>
<path d="M480.6 347.3l3 8l-3 4" stroke="#e4c458" stroke-width="1.6" fill="none" opacity="0.9"/>
<circle cx="484.1" cy="352.3" r="2.4" fill="#e0c860" opacity="0.9"/>
<path d="M489.6 368.2l4 5l5 -2" stroke="#f0a030" stroke-width="1.4" fill="none" opacity="0.8"/>
<circle cx="489.6" cy="368.2" r="2.1" fill="#f49a28" opacity="0.9"/>
<path d="M480.6 380.2l3 8l-3 4" stroke="#e4c458" stroke-width="1.6" fill="none" opacity="0.9"/>
<circle cx="484.1" cy="385.2" r="2.4" fill="#e0c860" opacity="0.9"/>
<path d="M489.6 401.1l4 5l5 -2" stroke="#f0a030" stroke-width="1.4" fill="none" opacity="0.8"/>
<circle cx="489.6" cy="401.1" r="2.1" fill="#f49a28" opacity="0.9"/>
<path d="M480.6 413.1l3 8l-3 4" stroke="#e4c458" stroke-width="1.6" fill="none" opacity="0.9"/>
<circle cx="484.1" cy="418.1" r="2.4" fill="#e0c860" opacity="0.9"/>
<path d="M489.6 434l4 5l5 -2" stroke="#f0a030" stroke-width="1.4" fill="none" opacity="0.8"/>
<circle cx="489.6" cy="434" r="2.1" fill="#f49a28" opacity="0.9"/>
<path d="M480.6 446l3 8l-3 4" stroke="#e4c458" stroke-width="1.6" fill="none" opacity="0.9"/>
<circle cx="484.1" cy="451" r="2.4" fill="#e0c860" opacity="0.9"/>
<path d="M528.2 302.4l4 5l5 -2" stroke="#f0a030" stroke-width="1.4" fill="none" opacity="0.8"/>
<circle cx="528.2" cy="302.4" r="2.1" fill="#f49a28" opacity="0.9"/>
<path d="M519.2 314.4l3 8l-3 4" stroke="#e4c458" stroke-width="1.6" fill="none" opacity="0.9"/>
<circle cx="522.7" cy="319.4" r="2.4" fill="#e0c860" opacity="0.9"/>
<path d="M528.2 335.3l4 5l5 -2" stroke="#f0a030" stroke-width="1.4" fill="none" opacity="0.8"/>
<circle cx="528.2" cy="335.3" r="2.1" fill="#f49a28" opacity="0.9"/>
<path d="M519.2 347.3l3 8l-3 4" stroke="#e4c458" stroke-width="1.6" fill="none" opacity="0.9"/>
<circle cx="522.7" cy="352.3" r="2.4" fill="#e0c860" opacity="0.9"/>
<path d="M528.2 368.2l4 5l5 -2" stroke="#f0a030" stroke-width="1.4" fill="none" opacity="0.8"/>
<circle cx="528.2" cy="368.2" r="2.1" fill="#f49a28" opacity="0.9"/>
<path d="M519.2 380.2l3 8l-3 4" stroke="#e4c458" stroke-width="1.6" fill="none" opacity="0.9"/>
<circle cx="522.7" cy="385.2" r="2.4" fill="#e0c860" opacity="0.9"/>
<path d="M528.2 401.1l4 5l5 -2" stroke="#f0a030" stroke-width="1.4" fill="none" opacity="0.8"/>
<circle cx="528.2" cy="401.1" r="2.1" fill="#f49a28" opacity="0.9"/>
<path d="M519.2 413.1l3 8l-3 4" stroke="#e4c458" stroke-width="1.6" fill="none" opacity="0.9"/>
<circle cx="522.7" cy="418.1" r="2.4" fill="#e0c860" opacity="0.9"/>
<path d="M528.2 434l4 5l5 -2" stroke="#f0a030" stroke-width="1.4" fill="none" opacity="0.8"/>
<circle cx="528.2" cy="434" r="2.1" fill="#f49a28" opacity="0.9"/>
<path d="M519.2 446l3 8l-3 4" stroke="#e4c458" stroke-width="1.6" fill="none" opacity="0.9"/>
<circle cx="522.7" cy="451" r="2.4" fill="#e0c860" opacity="0.9"/>
<path d="M393.1 318.85l4 5l5 -2" stroke="#f0a030" stroke-width="1.4" fill="none" opacity="0.8"/>
<circle cx="393.1" cy="318.85" r="2.1" fill="#f49a28" opacity="0.9"/>
<path d="M384.1 330.85l3 8l-3 4" stroke="#e4c458" stroke-width="1.6" fill="none" opacity="0.9"/>
<circle cx="387.6" cy="335.85" r="2.4" fill="#e0c860" opacity="0.9"/>
<path d="M393.1 351.75l4 5l5 -2" stroke="#f0a030" stroke-width="1.4" fill="none" opacity="0.8"/>
<circle cx="393.1" cy="351.75" r="2.1" fill="#f49a28" opacity="0.9"/>
<path d="M384.1 363.75l3 8l-3 4" stroke="#e4c458" stroke-width="1.6" fill="none" opacity="0.9"/>
<circle cx="387.6" cy="368.75" r="2.4" fill="#e0c860" opacity="0.9"/>
<path d="M393.1 384.65l4 5l5 -2" stroke="#f0a030" stroke-width="1.4" fill="none" opacity="0.8"/>
<circle cx="393.1" cy="384.65" r="2.1" fill="#f49a28" opacity="0.9"/>
<path d="M384.1 396.65l3 8l-3 4" stroke="#e4c458" stroke-width="1.6" fill="none" opacity="0.9"/>
<circle cx="387.6" cy="401.65" r="2.4" fill="#e0c860" opacity="0.9"/>
<path d="M393.1 417.55l4 5l5 -2" stroke="#f0a030" stroke-width="1.4" fill="none" opacity="0.8"/>
<circle cx="393.1" cy="417.55" r="2.1" fill="#f49a28" opacity="0.9"/>
<path d="M384.1 429.55l3 8l-3 4" stroke="#e4c458" stroke-width="1.6" fill="none" opacity="0.9"/>
<circle cx="387.6" cy="434.55" r="2.4" fill="#e0c860" opacity="0.9"/>
<path d="M393.1 450.45l4 5l5 -2" stroke="#f0a030" stroke-width="1.4" fill="none" opacity="0.8"/>
<circle cx="393.1" cy="450.45" r="2.1" fill="#f49a28" opacity="0.9"/>
<path d="M384.1 462.45l3 8l-3 4" stroke="#e4c458" stroke-width="1.6" fill="none" opacity="0.9"/>
<circle cx="387.6" cy="467.45" r="2.4" fill="#e0c860" opacity="0.9"/>
<path d="M431.7 318.85l4 5l5 -2" stroke="#f0a030" stroke-width="1.4" fill="none" opacity="0.8"/>
<circle cx="431.7" cy="318.85" r="2.1" fill="#f49a28" opacity="0.9"/>
<path d="M422.7 330.85l3 8l-3 4" stroke="#e4c458" stroke-width="1.6" fill="none" opacity="0.9"/>
<circle cx="426.2" cy="335.85" r="2.4" fill="#e0c860" opacity="0.9"/>
<path d="M431.7 351.75l4 5l5 -2" stroke="#f0a030" stroke-width="1.4" fill="none" opacity="0.8"/>
<circle cx="431.7" cy="351.75" r="2.1" fill="#f49a28" opacity="0.9"/>
<path d="M422.7 363.75l3 8l-3 4" stroke="#e4c458" stroke-width="1.6" fill="none" opacity="0.9"/>
<circle cx="426.2" cy="368.75" r="2.4" fill="#e0c860" opacity="0.9"/>
<path d="M431.7 384.65l4 5l5 -2" stroke="#f0a030" stroke-width="1.4" fill="none" opacity="0.8"/>
<circle cx="431.7" cy="384.65" r="2.1" fill="#f49a28" opacity="0.9"/>
<path d="M422.7 396.65l3 8l-3 4" stroke="#e4c458" stroke-width="1.6" fill="none" opacity="0.9"/>
<circle cx="426.2" cy="401.65" r="2.4" fill="#e0c860" opacity="0.9"/>
<path d="M431.7 417.55l4 5l5 -2" stroke="#f0a030" stroke-width="1.4" fill="none" opacity="0.8"/>
<circle cx="431.7" cy="417.55" r="2.1" fill="#f49a28" opacity="0.9"/>
<path d="M422.7 429.55l3 8l-3 4" stroke="#e4c458" stroke-width="1.6" fill="none" opacity="0.9"/>
<circle cx="426.2" cy="434.55" r="2.4" fill="#e0c860" opacity="0.9"/>
<path d="M431.7 450.45l4 5l5 -2" stroke="#f0a030" stroke-width="1.4" fill="none" opacity="0.8"/>
<circle cx="431.7" cy="450.45" r="2.1" fill="#f49a28" opacity="0.9"/>
<path d="M422.7 462.45l3 8l-3 4" stroke="#e4c458" stroke-width="1.6" fill="none" opacity="0.9"/>
<circle cx="426.2" cy="467.45" r="2.4" fill="#e0c860" opacity="0.9"/>
<path d="M470.3 318.85l4 5l5 -2" stroke="#f0a030" stroke-width="1.4" fill="none" opacity="0.8"/>
<circle cx="470.3" cy="318.85" r="2.1" fill="#f49a28" opacity="0.9"/>
<path d="M461.3 330.85l3 8l-3 4" stroke="#e4c458" stroke-width="1.6" fill="none" opacity="0.9"/>
<circle cx="464.8" cy="335.85" r="2.4" fill="#e0c860" opacity="0.9"/>
<path d="M470.3 351.75l4 5l5 -2" stroke="#f0a030" stroke-width="1.4" fill="none" opacity="0.8"/>
<circle cx="470.3" cy="351.75" r="2.1" fill="#f49a28" opacity="0.9"/>
<path d="M461.3 363.75l3 8l-3 4" stroke="#e4c458" stroke-width="1.6" fill="none" opacity="0.9"/>
<circle cx="464.8" cy="368.75" r="2.4" fill="#e0c860" opacity="0.9"/>
<path d="M470.3 384.65l4 5l5 -2" stroke="#f0a030" stroke-width="1.4" fill="none" opacity="0.8"/>
<circle cx="470.3" cy="384.65" r="2.1" fill="#f49a28" opacity="0.9"/>
<path d="M461.3 396.65l3 8l-3 4" stroke="#e4c458" stroke-width="1.6" fill="none" opacity="0.9"/>
<circle cx="464.8" cy="401.65" r="2.4" fill="#e0c860" opacity="0.9"/>
<path d="M470.3 417.55l4 5l5 -2" stroke="#f0a030" stroke-width="1.4" fill="none" opacity="0.8"/>
<circle cx="470.3" cy="417.55" r="2.1" fill="#f49a28" opacity="0.9"/>
<path d="M461.3 429.55l3 8l-3 4" stroke="#e4c458" stroke-width="1.6" fill="none" opacity="0.9"/>
<circle cx="464.8" cy="434.55" r="2.4" fill="#e0c860" opacity="0.9"/>
<path d="M470.3 450.45l4 5l5 -2" stroke="#f0a030" stroke-width="1.4" fill="none" opacity="0.8"/>
<circle cx="470.3" cy="450.45" r="2.1" fill="#f49a28" opacity="0.9"/>
<path d="M461.3 462.45l3 8l-3 4" stroke="#e4c458" stroke-width="1.6" fill="none" opacity="0.9"/>
<circle cx="464.8" cy="467.45" r="2.4" fill="#e0c860" opacity="0.9"/>
<path d="M508.9 318.85l4 5l5 -2" stroke="#f0a030" stroke-width="1.4" fill="none" opacity="0.8"/>
<circle cx="508.9" cy="318.85" r="2.1" fill="#f49a28" opacity="0.9"/>
<path d="M499.9 330.85l3 8l-3 4" stroke="#e4c458" stroke-width="1.6" fill="none" opacity="0.9"/>
<circle cx="503.4" cy="335.85" r="2.4" fill="#e0c860" opacity="0.9"/>
<path d="M508.9 351.75l4 5l5 -2" stroke="#f0a030" stroke-width="1.4" fill="none" opacity="0.8"/>
<circle cx="508.9" cy="351.75" r="2.1" fill="#f49a28" opacity="0.9"/>
<path d="M499.9 363.75l3 8l-3 4" stroke="#e4c458" stroke-width="1.6" fill="none" opacity="0.9"/>
<circle cx="503.4" cy="368.75" r="2.4" fill="#e0c860" opacity="0.9"/>
<path d="M508.9 384.65l4 5l5 -2" stroke="#f0a030" stroke-width="1.4" fill="none" opacity="0.8"/>
<circle cx="508.9" cy="384.65" r="2.1" fill="#f49a28" opacity="0.9"/>
<path d="M499.9 396.65l3 8l-3 4" stroke="#e4c458" stroke-width="1.6" fill="none" opacity="0.9"/>
<circle cx="503.4" cy="401.65" r="2.4" fill="#e0c860" opacity="0.9"/>
<path d="M508.9 417.55l4 5l5 -2" stroke="#f0a030" stroke-width="1.4" fill="none" opacity="0.8"/>
<circle cx="508.9" cy="417.55" r="2.1" fill="#f49a28" opacity="0.9"/>
<path d="M499.9 429.55l3 8l-3 4" stroke="#e4c458" stroke-width="1.6" fill="none" opacity="0.9"/>
<circle cx="503.4" cy="434.55" r="2.4" fill="#e0c860" opacity="0.9"/>
<path d="M508.9 450.45l4 5l5 -2" stroke="#f0a030" stroke-width="1.4" fill="none" opacity="0.8"/>
<circle cx="508.9" cy="450.45" r="2.1" fill="#f49a28" opacity="0.9"/>
<path d="M499.9 462.45l3 8l-3 4" stroke="#e4c458" stroke-width="1.6" fill="none" opacity="0.9"/>
<circle cx="503.4" cy="467.45" r="2.4" fill="#e0c860" opacity="0.9"/>
<path d="M547.5 318.85l4 5l5 -2" stroke="#f0a030" stroke-width="1.4" fill="none" opacity="0.8"/>
<circle cx="547.5" cy="318.85" r="2.1" fill="#f49a28" opacity="0.9"/>
<path d="M538.5 330.85l3 8l-3 4" stroke="#e4c458" stroke-width="1.6" fill="none" opacity="0.9"/>
<circle cx="542" cy="335.85" r="2.4" fill="#e0c860" opacity="0.9"/>
<path d="M547.5 351.75l4 5l5 -2" stroke="#f0a030" stroke-width="1.4" fill="none" opacity="0.8"/>
<circle cx="547.5" cy="351.75" r="2.1" fill="#f49a28" opacity="0.9"/>
<path d="M538.5 363.75l3 8l-3 4" stroke="#e4c458" stroke-width="1.6" fill="none" opacity="0.9"/>
<circle cx="542" cy="368.75" r="2.4" fill="#e0c860" opacity="0.9"/>
<path d="M547.5 384.65l4 5l5 -2" stroke="#f0a030" stroke-width="1.4" fill="none" opacity="0.8"/>
<circle cx="547.5" cy="384.65" r="2.1" fill="#f49a28" opacity="0.9"/>
<path d="M538.5 396.65l3 8l-3 4" stroke="#e4c458" stroke-width="1.6" fill="none" opacity="0.9"/>
<circle cx="542" cy="401.65" r="2.4" fill="#e0c860" opacity="0.9"/>
<path d="M547.5 417.55l4 5l5 -2" stroke="#f0a030" stroke-width="1.4" fill="none" opacity="0.8"/>
<circle cx="547.5" cy="417.55" r="2.1" fill="#f49a28" opacity="0.9"/>
<path d="M538.5 429.55l3 8l-3 4" stroke="#e4c458" stroke-width="1.6" fill="none" opacity="0.9"/>
<circle cx="542" cy="434.55" r="2.4" fill="#e0c860" opacity="0.9"/>
<path d="M547.5 450.45l4 5l5 -2" stroke="#f0a030" stroke-width="1.4" fill="none" opacity="0.8"/>
<circle cx="547.5" cy="450.45" r="2.1" fill="#f49a28" opacity="0.9"/>
<path d="M538.5 462.45l3 8l-3 4" stroke="#e4c458" stroke-width="1.6" fill="none" opacity="0.9"/>
<circle cx="542" cy="467.45" r="2.4" fill="#e0c860" opacity="0.9"/>
<path d="M363.8 310.4l5.5 12.0" stroke="#e85a18" stroke-width="1.4"/>
<circle cx="369.3" cy="322.4" r="2.2" fill="url(#gO)"/>
<path d="M363.8 310.4l-11.8 1.5" stroke="#e85a18" stroke-width="1.4"/>
<circle cx="352" cy="311.9" r="2.2" fill="url(#gO)"/>
<path d="M363.8 343.3l5.5 12.0" stroke="#e85a18" stroke-width="1.4"/>
<circle cx="369.3" cy="355.3" r="2.2" fill="url(#gO)"/>
<path d="M363.8 343.3l-11.8 1.5" stroke="#e85a18" stroke-width="1.4"/>
<circle cx="352" cy="344.8" r="2.2" fill="url(#gO)"/>
<path d="M363.8 376.2l5.5 12.0" stroke="#e85a18" stroke-width="1.4"/>
<circle cx="369.3" cy="388.2" r="2.2" fill="url(#gO)"/>
<path d="M363.8 376.2l-11.8 1.5" stroke="#e85a18" stroke-width="1.4"/>
<circle cx="352" cy="377.7" r="2.2" fill="url(#gO)"/>
<path d="M363.8 409.1l5.5 12.0" stroke="#e85a18" stroke-width="1.4"/>
<circle cx="369.3" cy="421.1" r="2.2" fill="url(#gO)"/>
<path d="M363.8 409.1l-11.8 1.5" stroke="#e85a18" stroke-width="1.4"/>
<circle cx="352" cy="410.6" r="2.2" fill="url(#gO)"/>
<path d="M363.8 442l5.5 12.0" stroke="#e85a18" stroke-width="1.4"/>
<circle cx="369.3" cy="454" r="2.2" fill="url(#gO)"/>
<path d="M363.8 442l-11.8 1.5" stroke="#e85a18" stroke-width="1.4"/>
<circle cx="352" cy="443.5" r="2.2" fill="url(#gO)"/>
<path d="M402.4 310.4l5.5 12.0" stroke="#e85a18" stroke-width="1.4"/>
<circle cx="407.9" cy="322.4" r="2.2" fill="url(#gO)"/>
<path d="M402.4 310.4l-11.8 1.5" stroke="#e85a18" stroke-width="1.4"/>
<circle cx="390.6" cy="311.9" r="2.2" fill="url(#gO)"/>
<path d="M402.4 343.3l5.5 12.0" stroke="#e85a18" stroke-width="1.4"/>
<circle cx="407.9" cy="355.3" r="2.2" fill="url(#gO)"/>
<path d="M402.4 343.3l-11.8 1.5" stroke="#e85a18" stroke-width="1.4"/>
<circle cx="390.6" cy="344.8" r="2.2" fill="url(#gO)"/>
<path d="M402.4 376.2l5.5 12.0" stroke="#e85a18" stroke-width="1.4"/>
<circle cx="407.9" cy="388.2" r="2.2" fill="url(#gO)"/>
<path d="M402.4 376.2l-11.8 1.5" stroke="#e85a18" stroke-width="1.4"/>
<circle cx="390.6" cy="377.7" r="2.2" fill="url(#gO)"/>
<path d="M402.4 409.1l5.5 12.0" stroke="#e85a18" stroke-width="1.4"/>
<circle cx="407.9" cy="421.1" r="2.2" fill="url(#gO)"/>
<path d="M402.4 409.1l-11.8 1.5" stroke="#e85a18" stroke-width="1.4"/>
<circle cx="390.6" cy="410.6" r="2.2" fill="url(#gO)"/>
<path d="M402.4 442l5.5 12.0" stroke="#e85a18" stroke-width="1.4"/>
<circle cx="407.9" cy="454" r="2.2" fill="url(#gO)"/>
<path d="M402.4 442l-11.8 1.5" stroke="#e85a18" stroke-width="1.4"/>
<circle cx="390.6" cy="443.5" r="2.2" fill="url(#gO)"/>
<path d="M441 310.4l5.5 12.0" stroke="#e85a18" stroke-width="1.4"/>
<circle cx="446.5" cy="322.4" r="2.2" fill="url(#gO)"/>
<path d="M441 310.4l-11.8 1.5" stroke="#e85a18" stroke-width="1.4"/>
<circle cx="429.2" cy="311.9" r="2.2" fill="url(#gO)"/>
<path d="M441 343.3l5.5 12.0" stroke="#e85a18" stroke-width="1.4"/>
<circle cx="446.5" cy="355.3" r="2.2" fill="url(#gO)"/>
<path d="M441 343.3l-11.8 1.5" stroke="#e85a18" stroke-width="1.4"/>
<circle cx="429.2" cy="344.8" r="2.2" fill="url(#gO)"/>
<path d="M441 376.2l5.5 12.0" stroke="#e85a18" stroke-width="1.4"/>
<circle cx="446.5" cy="388.2" r="2.2" fill="url(#gO)"/>
<path d="M441 376.2l-11.8 1.5" stroke="#e85a18" stroke-width="1.4"/>
<circle cx="429.2" cy="377.7" r="2.2" fill="url(#gO)"/>
<path d="M441 409.1l5.5 12.0" stroke="#e85a18" stroke-width="1.4"/>
<circle cx="446.5" cy="421.1" r="2.2" fill="url(#gO)"/>
<path d="M441 409.1l-11.8 1.5" stroke="#e85a18" stroke-width="1.4"/>
<circle cx="429.2" cy="410.6" r="2.2" fill="url(#gO)"/>
<path d="M441 442l5.5 12.0" stroke="#e85a18" stroke-width="1.4"/>
<circle cx="446.5" cy="454" r="2.2" fill="url(#gO)"/>
<path d="M441 442l-11.8 1.5" stroke="#e85a18" stroke-width="1.4"/>
<circle cx="429.2" cy="443.5" r="2.2" fill="url(#gO)"/>
<path d="M479.6 310.4l5.5 12.0" stroke="#e85a18" stroke-width="1.4"/>
<circle cx="485.1" cy="322.4" r="2.2" fill="url(#gO)"/>
<path d="M479.6 310.4l-11.8 1.5" stroke="#e85a18" stroke-width="1.4"/>
<circle cx="467.8" cy="311.9" r="2.2" fill="url(#gO)"/>
<path d="M479.6 343.3l5.5 12.0" stroke="#e85a18" stroke-width="1.4"/>
<circle cx="485.1" cy="355.3" r="2.2" fill="url(#gO)"/>
<path d="M479.6 343.3l-11.8 1.5" stroke="#e85a18" stroke-width="1.4"/>
<circle cx="467.8" cy="344.8" r="2.2" fill="url(#gO)"/>
<path d="M479.6 376.2l5.5 12.0" stroke="#e85a18" stroke-width="1.4"/>
<circle cx="485.1" cy="388.2" r="2.2" fill="url(#gO)"/>
<path d="M479.6 376.2l-11.8 1.5" stroke="#e85a18" stroke-width="1.4"/>
<circle cx="467.8" cy="377.7" r="2.2" fill="url(#gO)"/>
<path d="M479.6 409.1l5.5 12.0" stroke="#e85a18" stroke-width="1.4"/>
<circle cx="485.1" cy="421.1" r="2.2" fill="url(#gO)"/>
<path d="M479.6 409.1l-11.8 1.5" stroke="#e85a18" stroke-width="1.4"/>
<circle cx="467.8" cy="410.6" r="2.2" fill="url(#gO)"/>
<path d="M479.6 442l5.5 12.0" stroke="#e85a18" stroke-width="1.4"/>
<circle cx="485.1" cy="454" r="2.2" fill="url(#gO)"/>
<path d="M479.6 442l-11.8 1.5" stroke="#e85a18" stroke-width="1.4"/>
<circle cx="467.8" cy="443.5" r="2.2" fill="url(#gO)"/>
<path d="M518.2 310.4l5.5 12.0" stroke="#e85a18" stroke-width="1.4"/>
<circle cx="523.7" cy="322.4" r="2.2" fill="url(#gO)"/>
<path d="M518.2 310.4l-11.8 1.5" stroke="#e85a18" stroke-width="1.4"/>
<circle cx="506.4" cy="311.9" r="2.2" fill="url(#gO)"/>
<path d="M518.2 343.3l5.5 12.0" stroke="#e85a18" stroke-width="1.4"/>
<circle cx="523.7" cy="355.3" r="2.2" fill="url(#gO)"/>
<path d="M518.2 343.3l-11.8 1.5" stroke="#e85a18" stroke-width="1.4"/>
<circle cx="506.4" cy="344.8" r="2.2" fill="url(#gO)"/>
<path d="M518.2 376.2l5.5 12.0" stroke="#e85a18" stroke-width="1.4"/>
<circle cx="523.7" cy="388.2" r="2.2" fill="url(#gO)"/>
<path d="M518.2 376.2l-11.8 1.5" stroke="#e85a18" stroke-width="1.4"/>
<circle cx="506.4" cy="377.7" r="2.2" fill="url(#gO)"/>
<path d="M518.2 409.1l5.5 12.0" stroke="#e85a18" stroke-width="1.4"/>
<circle cx="523.7" cy="421.1" r="2.2" fill="url(#gO)"/>
<path d="M518.2 409.1l-11.8 1.5" stroke="#e85a18" stroke-width="1.4"/>
<circle cx="506.4" cy="410.6" r="2.2" fill="url(#gO)"/>
<path d="M518.2 442l5.5 12.0" stroke="#e85a18" stroke-width="1.4"/>
<circle cx="523.7" cy="454" r="2.2" fill="url(#gO)"/>
<path d="M518.2 442l-11.8 1.5" stroke="#e85a18" stroke-width="1.4"/>
<circle cx="506.4" cy="443.5" r="2.2" fill="url(#gO)"/>
<path d="M383.1 326.85l-5.4 11.0" stroke="#e85a18" stroke-width="1.4"/>
<circle cx="377.7" cy="337.85" r="2.2" fill="url(#gO)"/>
<path d="M383.1 326.85l11.8 1.8" stroke="#e85a18" stroke-width="1.4"/>
<circle cx="394.9" cy="328.65" r="2.2" fill="url(#gO)"/>
<path d="M383.1 359.75l-5.4 11.0" stroke="#e85a18" stroke-width="1.4"/>
<circle cx="377.7" cy="370.75" r="2.2" fill="url(#gO)"/>
<path d="M383.1 359.75l11.8 1.8" stroke="#e85a18" stroke-width="1.4"/>
<circle cx="394.9" cy="361.55" r="2.2" fill="url(#gO)"/>
<path d="M383.1 392.65l-5.4 11.0" stroke="#e85a18" stroke-width="1.4"/>
<circle cx="377.7" cy="403.65" r="2.2" fill="url(#gO)"/>
<path d="M383.1 392.65l11.8 1.8" stroke="#e85a18" stroke-width="1.4"/>
<circle cx="394.9" cy="394.45" r="2.2" fill="url(#gO)"/>
<path d="M383.1 425.55l-5.4 11.0" stroke="#e85a18" stroke-width="1.4"/>
<circle cx="377.7" cy="436.55" r="2.2" fill="url(#gO)"/>
<path d="M383.1 425.55l11.8 1.8" stroke="#e85a18" stroke-width="1.4"/>
<circle cx="394.9" cy="427.35" r="2.2" fill="url(#gO)"/>
<path d="M383.1 458.45l-5.4 11.0" stroke="#e85a18" stroke-width="1.4"/>
<circle cx="377.7" cy="469.45" r="2.2" fill="url(#gO)"/>
<path d="M383.1 458.45l11.8 1.8" stroke="#e85a18" stroke-width="1.4"/>
<circle cx="394.9" cy="460.25" r="2.2" fill="url(#gO)"/>
<path d="M421.7 326.85l-5.4 11.0" stroke="#e85a18" stroke-width="1.4"/>
<circle cx="416.3" cy="337.85" r="2.2" fill="url(#gO)"/>
<path d="M421.7 326.85l11.8 1.8" stroke="#e85a18" stroke-width="1.4"/>
<circle cx="433.5" cy="328.65" r="2.2" fill="url(#gO)"/>
<path d="M421.7 359.75l-5.4 11.0" stroke="#e85a18" stroke-width="1.4"/>
<circle cx="416.3" cy="370.75" r="2.2" fill="url(#gO)"/>
<path d="M421.7 359.75l11.8 1.8" stroke="#e85a18" stroke-width="1.4"/>
<circle cx="433.5" cy="361.55" r="2.2" fill="url(#gO)"/>
<path d="M421.7 392.65l-5.4 11.0" stroke="#e85a18" stroke-width="1.4"/>
<circle cx="416.3" cy="403.65" r="2.2" fill="url(#gO)"/>
<path d="M421.7 392.65l11.8 1.8" stroke="#e85a18" stroke-width="1.4"/>
<circle cx="433.5" cy="394.45" r="2.2" fill="url(#gO)"/>
<path d="M421.7 425.55l-5.4 11.0" stroke="#e85a18" stroke-width="1.4"/>
<circle cx="416.3" cy="436.55" r="2.2" fill="url(#gO)"/>
<path d="M421.7 425.55l11.8 1.8" stroke="#e85a18" stroke-width="1.4"/>
<circle cx="433.5" cy="427.35" r="2.2" fill="url(#gO)"/>
<path d="M421.7 458.45l-5.4 11.0" stroke="#e85a18" stroke-width="1.4"/>
<circle cx="416.3" cy="469.45" r="2.2" fill="url(#gO)"/>
<path d="M421.7 458.45l11.8 1.8" stroke="#e85a18" stroke-width="1.4"/>
<circle cx="433.5" cy="460.25" r="2.2" fill="url(#gO)"/>
<path d="M460.3 326.85l-5.4 11.0" stroke="#e85a18" stroke-width="1.4"/>
<circle cx="454.9" cy="337.85" r="2.2" fill="url(#gO)"/>
<path d="M460.3 326.85l11.8 1.8" stroke="#e85a18" stroke-width="1.4"/>
<circle cx="472.1" cy="328.65" r="2.2" fill="url(#gO)"/>
<path d="M460.3 359.75l-5.4 11.0" stroke="#e85a18" stroke-width="1.4"/>
<circle cx="454.9" cy="370.75" r="2.2" fill="url(#gO)"/>
<path d="M460.3 359.75l11.8 1.8" stroke="#e85a18" stroke-width="1.4"/>
<circle cx="472.1" cy="361.55" r="2.2" fill="url(#gO)"/>
<path d="M460.3 392.65l-5.4 11.0" stroke="#e85a18" stroke-width="1.4"/>
<circle cx="454.9" cy="403.65" r="2.2" fill="url(#gO)"/>
<path d="M460.3 392.65l11.8 1.8" stroke="#e85a18" stroke-width="1.4"/>
<circle cx="472.1" cy="394.45" r="2.2" fill="url(#gO)"/>
<path d="M460.3 425.55l-5.4 11.0" stroke="#e85a18" stroke-width="1.4"/>
<circle cx="454.9" cy="436.55" r="2.2" fill="url(#gO)"/>
<path d="M460.3 425.55l11.8 1.8" stroke="#e85a18" stroke-width="1.4"/>
<circle cx="472.1" cy="427.35" r="2.2" fill="url(#gO)"/>
<path d="M460.3 458.45l-5.4 11.0" stroke="#e85a18" stroke-width="1.4"/>
<circle cx="454.9" cy="469.45" r="2.2" fill="url(#gO)"/>
<path d="M460.3 458.45l11.8 1.8" stroke="#e85a18" stroke-width="1.4"/>
<circle cx="472.1" cy="460.25" r="2.2" fill="url(#gO)"/>
<path d="M498.9 326.85l-5.4 11.0" stroke="#e85a18" stroke-width="1.4"/>
<circle cx="493.5" cy="337.85" r="2.2" fill="url(#gO)"/>
<path d="M498.9 326.85l11.8 1.8" stroke="#e85a18" stroke-width="1.4"/>
<circle cx="510.7" cy="328.65" r="2.2" fill="url(#gO)"/>
<path d="M498.9 359.75l-5.4 11.0" stroke="#e85a18" stroke-width="1.4"/>
<circle cx="493.5" cy="370.75" r="2.2" fill="url(#gO)"/>
<path d="M498.9 359.75l11.8 1.8" stroke="#e85a18" stroke-width="1.4"/>
<circle cx="510.7" cy="361.55" r="2.2" fill="url(#gO)"/>
<path d="M498.9 392.65l-5.4 11.0" stroke="#e85a18" stroke-width="1.4"/>
<circle cx="493.5" cy="403.65" r="2.2" fill="url(#gO)"/>
<path d="M498.9 392.65l11.8 1.8" stroke="#e85a18" stroke-width="1.4"/>
<circle cx="510.7" cy="394.45" r="2.2" fill="url(#gO)"/>
<path d="M498.9 425.55l-5.4 11.0" stroke="#e85a18" stroke-width="1.4"/>
<circle cx="493.5" cy="436.55" r="2.2" fill="url(#gO)"/>
<path d="M498.9 425.55l11.8 1.8" stroke="#e85a18" stroke-width="1.4"/>
<circle cx="510.7" cy="427.35" r="2.2" fill="url(#gO)"/>
<path d="M498.9 458.45l-5.4 11.0" stroke="#e85a18" stroke-width="1.4"/>
<circle cx="493.5" cy="469.45" r="2.2" fill="url(#gO)"/>
<path d="M498.9 458.45l11.8 1.8" stroke="#e85a18" stroke-width="1.4"/>
<circle cx="510.7" cy="460.25" r="2.2" fill="url(#gO)"/>
<path d="M537.5 326.85l-5.4 11.0" stroke="#e85a18" stroke-width="1.4"/>
<circle cx="532.1" cy="337.85" r="2.2" fill="url(#gO)"/>
<path d="M537.5 326.85l11.8 1.8" stroke="#e85a18" stroke-width="1.4"/>
<circle cx="549.3" cy="328.65" r="2.2" fill="url(#gO)"/>
<path d="M537.5 359.75l-5.4 11.0" stroke="#e85a18" stroke-width="1.4"/>
<circle cx="532.1" cy="370.75" r="2.2" fill="url(#gO)"/>
<path d="M537.5 359.75l11.8 1.8" stroke="#e85a18" stroke-width="1.4"/>
<circle cx="549.3" cy="361.55" r="2.2" fill="url(#gO)"/>
<path d="M537.5 392.65l-5.4 11.0" stroke="#e85a18" stroke-width="1.4"/>
<circle cx="532.1" cy="403.65" r="2.2" fill="url(#gO)"/>
<path d="M537.5 392.65l11.8 1.8" stroke="#e85a18" stroke-width="1.4"/>
<circle cx="549.3" cy="394.45" r="2.2" fill="url(#gO)"/>
<path d="M537.5 425.55l-5.4 11.0" stroke="#e85a18" stroke-width="1.4"/>
<circle cx="532.1" cy="436.55" r="2.2" fill="url(#gO)"/>
<path d="M537.5 425.55l11.8 1.8" stroke="#e85a18" stroke-width="1.4"/>
<circle cx="549.3" cy="427.35" r="2.2" fill="url(#gO)"/>
<path d="M537.5 458.45l-5.4 11.0" stroke="#e85a18" stroke-width="1.4"/>
<circle cx="532.1" cy="469.45" r="2.2" fill="url(#gO)"/>
<path d="M537.5 458.45l11.8 1.8" stroke="#e85a18" stroke-width="1.4"/>
<circle cx="549.3" cy="460.25" r="2.2" fill="url(#gO)"/>
<circle cx="363.8" cy="310.4" r="4.5" fill="url(#gAl2)"/>
<circle cx="363.8" cy="343.3" r="4.5" fill="url(#gAl2)"/>
<circle cx="363.8" cy="376.2" r="4.5" fill="url(#gAl2)"/>
<circle cx="363.8" cy="409.1" r="4.5" fill="url(#gAl2)"/>
<circle cx="363.8" cy="442" r="4.5" fill="url(#gAl2)"/>
<circle cx="402.4" cy="310.4" r="4.5" fill="url(#gAl2)"/>
<circle cx="402.4" cy="343.3" r="4.5" fill="url(#gAl2)"/>
<circle cx="402.4" cy="376.2" r="4.5" fill="url(#gAl2)"/>
<circle cx="402.4" cy="409.1" r="4.5" fill="url(#gAl2)"/>
<circle cx="402.4" cy="442" r="4.5" fill="url(#gAl2)"/>
<circle cx="441" cy="310.4" r="4.5" fill="url(#gAl2)"/>
<circle cx="441" cy="343.3" r="4.5" fill="url(#gAl2)"/>
<circle cx="441" cy="376.2" r="4.5" fill="url(#gAl2)"/>
<circle cx="441" cy="409.1" r="4.5" fill="url(#gAl2)"/>
<circle cx="441" cy="442" r="4.5" fill="url(#gAl2)"/>
<circle cx="479.6" cy="310.4" r="4.5" fill="url(#gAl2)"/>
<circle cx="479.6" cy="343.3" r="4.5" fill="url(#gAl2)"/>
<circle cx="479.6" cy="376.2" r="4.5" fill="url(#gAl2)"/>
<circle cx="479.6" cy="409.1" r="4.5" fill="url(#gAl2)"/>
<circle cx="479.6" cy="442" r="4.5" fill="url(#gAl2)"/>
<circle cx="518.2" cy="310.4" r="4.5" fill="url(#gAl2)"/>
<circle cx="518.2" cy="343.3" r="4.5" fill="url(#gAl2)"/>
<circle cx="518.2" cy="376.2" r="4.5" fill="url(#gAl2)"/>
<circle cx="518.2" cy="409.1" r="4.5" fill="url(#gAl2)"/>
<circle cx="518.2" cy="442" r="4.5" fill="url(#gAl2)"/>
<circle cx="383.1" cy="326.85" r="4.5" fill="url(#gAl2)"/>
<circle cx="383.1" cy="359.75" r="4.5" fill="url(#gAl2)"/>
<circle cx="383.1" cy="392.65" r="4.5" fill="url(#gAl2)"/>
<circle cx="383.1" cy="425.55" r="4.5" fill="url(#gAl2)"/>
<circle cx="383.1" cy="458.45" r="4.5" fill="url(#gAl2)"/>
<circle cx="421.7" cy="326.85" r="4.5" fill="url(#gAl2)"/>
<circle cx="421.7" cy="359.75" r="4.5" fill="url(#gAl2)"/>
<circle cx="421.7" cy="392.65" r="4.5" fill="url(#gAl2)"/>
<circle cx="421.7" cy="425.55" r="4.5" fill="url(#gAl2)"/>
<circle cx="421.7" cy="458.45" r="4.5" fill="url(#gAl2)"/>
<circle cx="460.3" cy="326.85" r="4.5" fill="url(#gAl2)"/>
<circle cx="460.3" cy="359.75" r="4.5" fill="url(#gAl2)"/>
<circle cx="460.3" cy="392.65" r="4.5" fill="url(#gAl2)"/>
<circle cx="460.3" cy="425.55" r="4.5" fill="url(#gAl2)"/>
<circle cx="460.3" cy="458.45" r="4.5" fill="url(#gAl2)"/>
<circle cx="498.9" cy="326.85" r="4.5" fill="url(#gAl2)"/>
<circle cx="498.9" cy="359.75" r="4.5" fill="url(#gAl2)"/>
<circle cx="498.9" cy="392.65" r="4.5" fill="url(#gAl2)"/>
<circle cx="498.9" cy="425.55" r="4.5" fill="url(#gAl2)"/>
<circle cx="498.9" cy="458.45" r="4.5" fill="url(#gAl2)"/>
<circle cx="537.5" cy="326.85" r="4.5" fill="url(#gAl2)"/>
<circle cx="537.5" cy="359.75" r="4.5" fill="url(#gAl2)"/>
<circle cx="537.5" cy="392.65" r="4.5" fill="url(#gAl2)"/>
<circle cx="537.5" cy="425.55" r="4.5" fill="url(#gAl2)"/>
<circle cx="537.5" cy="458.45" r="4.5" fill="url(#gAl2)"/>
</g>
<path d="M445 376.2H479.6M481.6 377V409.1M455.2 369.5L441 397.6L460.3 427.2L479.6 397.6L465.4 369.5M441 397.6V409.1M460.3 427.2V438.5" stroke="#111" stroke-width="1.4" fill="none" stroke-linejoin="round"/>
<text x="461.3" y="372.6" font-size="8.8" text-anchor="middle" font-weight="normal" font-style="normal" fill="#111" stroke="#111" stroke-width="0.3">4.76 Å</text>
<text x="493.3" y="392.5" font-size="8.8" text-anchor="middle" font-weight="normal" font-style="normal" fill="#222" transform="rotate(-90 493.3 392.5)" stroke="#222" stroke-width="0.2">5.13 Å</text>
<path d="M398.1 360.5V438.8H501.6" stroke="#111" stroke-width="1.5" fill="none"/>
<path d="M395.7 361.7L398.1 356.7L400.5 361.7ZM500.1 436.4L505.1 438.8L500.1 441.2Z" fill="#111"/>
<text x="391.5" y="399" font-size="8.4" text-anchor="middle" font-weight="bold" font-style="normal" fill="#111" transform="rotate(-90 391.5 399)">[<tspan text-decoration="overline">1</tspan>101]</text>
<text x="452" y="450" font-size="8.6" text-anchor="middle" font-weight="bold" font-style="normal" fill="#111">[11<tspan text-decoration="overline">2</tspan>0]</text>
</svg>
</body></html>
